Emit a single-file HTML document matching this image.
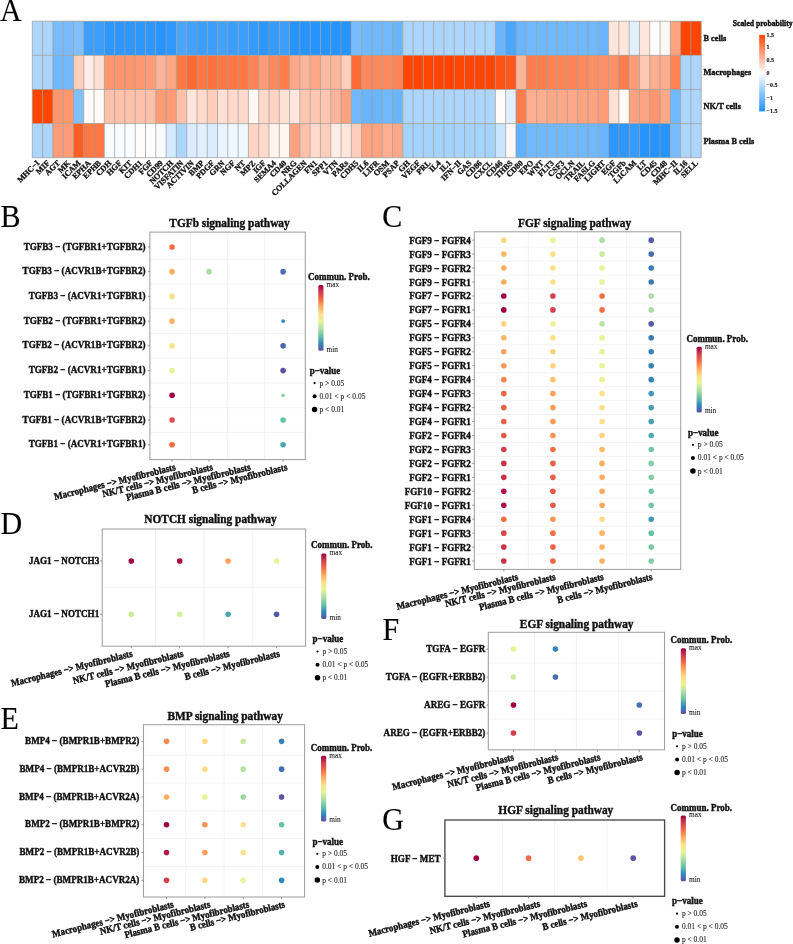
<!DOCTYPE html>
<html><head><meta charset="utf-8"><style>
html,body{margin:0;padding:0;background:#fff;}
svg{display:block;}
</style></head><body>
<svg width="793" height="944" viewBox="0 0 793 944" font-family="'Liberation Serif', serif">
<rect width="793" height="944" fill="#fff"/>
<g>
<rect x="32.30" y="21.20" width="10.34" height="34.12" fill="#acd6ff"/>
<rect x="32.30" y="55.33" width="10.34" height="34.12" fill="#acd6ff"/>
<rect x="32.30" y="89.45" width="10.34" height="34.12" fill="#ff4500"/>
<rect x="32.30" y="123.58" width="10.34" height="34.12" fill="#acd6ff"/>
<rect x="42.59" y="21.20" width="10.34" height="34.12" fill="#acd6ff"/>
<rect x="42.59" y="55.33" width="10.34" height="34.12" fill="#acd6ff"/>
<rect x="42.59" y="89.45" width="10.34" height="34.12" fill="#ff4500"/>
<rect x="42.59" y="123.58" width="10.34" height="34.12" fill="#acd6ff"/>
<rect x="52.88" y="21.20" width="10.34" height="34.12" fill="#78bcff"/>
<rect x="52.88" y="55.33" width="10.34" height="34.12" fill="#70b9ff"/>
<rect x="52.88" y="89.45" width="10.34" height="34.12" fill="#ff966e"/>
<rect x="52.88" y="123.58" width="10.34" height="34.12" fill="#ff9c77"/>
<rect x="63.17" y="21.20" width="10.34" height="34.12" fill="#78bcff"/>
<rect x="63.17" y="55.33" width="10.34" height="34.12" fill="#70b9ff"/>
<rect x="63.17" y="89.45" width="10.34" height="34.12" fill="#ff966e"/>
<rect x="63.17" y="123.58" width="10.34" height="34.12" fill="#ff9c77"/>
<rect x="73.46" y="21.20" width="10.34" height="34.12" fill="#80c0ff"/>
<rect x="73.46" y="55.33" width="10.34" height="34.12" fill="#ffcdbb"/>
<rect x="73.46" y="89.45" width="10.34" height="34.12" fill="#80c0ff"/>
<rect x="73.46" y="123.58" width="10.34" height="34.12" fill="#ff5e22"/>
<rect x="83.75" y="21.20" width="10.34" height="34.12" fill="#3c9fff"/>
<rect x="83.75" y="55.33" width="10.34" height="34.12" fill="#ffece6"/>
<rect x="83.75" y="89.45" width="10.34" height="34.12" fill="#fffbfa"/>
<rect x="83.75" y="123.58" width="10.34" height="34.12" fill="#ff7744"/>
<rect x="94.04" y="21.20" width="10.34" height="34.12" fill="#3c9fff"/>
<rect x="94.04" y="55.33" width="10.34" height="34.12" fill="#ffe0d4"/>
<rect x="94.04" y="89.45" width="10.34" height="34.12" fill="#fff9f6"/>
<rect x="94.04" y="123.58" width="10.34" height="34.12" fill="#ff7744"/>
<rect x="104.34" y="21.20" width="10.34" height="34.12" fill="#2d97ff"/>
<rect x="104.34" y="55.33" width="10.34" height="34.12" fill="#ff966e"/>
<rect x="104.34" y="89.45" width="10.34" height="34.12" fill="#ffc1aa"/>
<rect x="104.34" y="123.58" width="10.34" height="34.12" fill="#f8fbff"/>
<rect x="114.63" y="21.20" width="10.34" height="34.12" fill="#2d97ff"/>
<rect x="114.63" y="55.33" width="10.34" height="34.12" fill="#ff966e"/>
<rect x="114.63" y="89.45" width="10.34" height="34.12" fill="#ffc1aa"/>
<rect x="114.63" y="123.58" width="10.34" height="34.12" fill="#f8fbff"/>
<rect x="124.92" y="21.20" width="10.34" height="34.12" fill="#2d97ff"/>
<rect x="124.92" y="55.33" width="10.34" height="34.12" fill="#ff966e"/>
<rect x="124.92" y="89.45" width="10.34" height="34.12" fill="#ffc1aa"/>
<rect x="124.92" y="123.58" width="10.34" height="34.12" fill="#fafdff"/>
<rect x="135.21" y="21.20" width="10.34" height="34.12" fill="#2d97ff"/>
<rect x="135.21" y="55.33" width="10.34" height="34.12" fill="#ff966e"/>
<rect x="135.21" y="89.45" width="10.34" height="34.12" fill="#ffc1aa"/>
<rect x="135.21" y="123.58" width="10.34" height="34.12" fill="#fffdfc"/>
<rect x="145.50" y="21.20" width="10.34" height="34.12" fill="#2d97ff"/>
<rect x="145.50" y="55.33" width="10.34" height="34.12" fill="#ff9c77"/>
<rect x="145.50" y="89.45" width="10.34" height="34.12" fill="#ffc1aa"/>
<rect x="145.50" y="123.58" width="10.34" height="34.12" fill="#fffdfc"/>
<rect x="155.79" y="21.20" width="10.34" height="34.12" fill="#2694ff"/>
<rect x="155.79" y="55.33" width="10.34" height="34.12" fill="#ffb599"/>
<rect x="155.79" y="89.45" width="10.34" height="34.12" fill="#ff9c77"/>
<rect x="155.79" y="123.58" width="10.34" height="34.12" fill="#f8fbff"/>
<rect x="166.08" y="21.20" width="10.34" height="34.12" fill="#2d97ff"/>
<rect x="166.08" y="55.33" width="10.34" height="34.12" fill="#ffa888"/>
<rect x="166.08" y="89.45" width="10.34" height="34.12" fill="#ff9c77"/>
<rect x="166.08" y="123.58" width="10.34" height="34.12" fill="#d2e9ff"/>
<rect x="176.37" y="21.20" width="10.34" height="34.12" fill="#4ba6ff"/>
<rect x="176.37" y="55.33" width="10.34" height="34.12" fill="#ff7744"/>
<rect x="176.37" y="89.45" width="10.34" height="34.12" fill="#ffc1aa"/>
<rect x="176.37" y="123.58" width="10.34" height="34.12" fill="#acd6ff"/>
<rect x="186.66" y="21.20" width="10.34" height="34.12" fill="#44a2ff"/>
<rect x="186.66" y="55.33" width="10.34" height="34.12" fill="#ff6a33"/>
<rect x="186.66" y="89.45" width="10.34" height="34.12" fill="#ffe6dd"/>
<rect x="186.66" y="123.58" width="10.34" height="34.12" fill="#daecff"/>
<rect x="196.95" y="21.20" width="10.34" height="34.12" fill="#3c9fff"/>
<rect x="196.95" y="55.33" width="10.34" height="34.12" fill="#ff7744"/>
<rect x="196.95" y="89.45" width="10.34" height="34.12" fill="#ffdacc"/>
<rect x="196.95" y="123.58" width="10.34" height="34.12" fill="#e1f0ff"/>
<rect x="207.24" y="21.20" width="10.34" height="34.12" fill="#3c9fff"/>
<rect x="207.24" y="55.33" width="10.34" height="34.12" fill="#ff703c"/>
<rect x="207.24" y="89.45" width="10.34" height="34.12" fill="#ffcdbb"/>
<rect x="207.24" y="123.58" width="10.34" height="34.12" fill="#daecff"/>
<rect x="217.53" y="21.20" width="10.34" height="34.12" fill="#44a2ff"/>
<rect x="217.53" y="55.33" width="10.34" height="34.12" fill="#ff7744"/>
<rect x="217.53" y="89.45" width="10.34" height="34.12" fill="#ffe0d4"/>
<rect x="217.53" y="123.58" width="10.34" height="34.12" fill="#e8f4ff"/>
<rect x="227.82" y="21.20" width="10.34" height="34.12" fill="#3c9fff"/>
<rect x="227.82" y="55.33" width="10.34" height="34.12" fill="#ff7744"/>
<rect x="227.82" y="89.45" width="10.34" height="34.12" fill="#ffdacc"/>
<rect x="227.82" y="123.58" width="10.34" height="34.12" fill="#f0f8ff"/>
<rect x="238.12" y="21.20" width="10.34" height="34.12" fill="#3c9fff"/>
<rect x="238.12" y="55.33" width="10.34" height="34.12" fill="#ff7744"/>
<rect x="238.12" y="89.45" width="10.34" height="34.12" fill="#ffdacc"/>
<rect x="238.12" y="123.58" width="10.34" height="34.12" fill="#f0f8ff"/>
<rect x="248.41" y="21.20" width="10.34" height="34.12" fill="#349bff"/>
<rect x="248.41" y="55.33" width="10.34" height="34.12" fill="#ff8355"/>
<rect x="248.41" y="89.45" width="10.34" height="34.12" fill="#fff9f6"/>
<rect x="248.41" y="123.58" width="10.34" height="34.12" fill="#ffd4c4"/>
<rect x="258.70" y="21.20" width="10.34" height="34.12" fill="#2d97ff"/>
<rect x="258.70" y="55.33" width="10.34" height="34.12" fill="#ff9c77"/>
<rect x="258.70" y="89.45" width="10.34" height="34.12" fill="#ffdacc"/>
<rect x="258.70" y="123.58" width="10.34" height="34.12" fill="#ffdacc"/>
<rect x="268.99" y="21.20" width="10.34" height="34.12" fill="#349bff"/>
<rect x="268.99" y="55.33" width="10.34" height="34.12" fill="#ff895e"/>
<rect x="268.99" y="89.45" width="10.34" height="34.12" fill="#ffd4c4"/>
<rect x="268.99" y="123.58" width="10.34" height="34.12" fill="#fff3ee"/>
<rect x="279.28" y="21.20" width="10.34" height="34.12" fill="#3c9fff"/>
<rect x="279.28" y="55.33" width="10.34" height="34.12" fill="#ff7d4c"/>
<rect x="279.28" y="89.45" width="10.34" height="34.12" fill="#ffe0d4"/>
<rect x="279.28" y="123.58" width="10.34" height="34.12" fill="#fff5f1"/>
<rect x="289.57" y="21.20" width="10.34" height="34.12" fill="#2694ff"/>
<rect x="289.57" y="55.33" width="10.34" height="34.12" fill="#ffa888"/>
<rect x="289.57" y="89.45" width="10.34" height="34.12" fill="#ffe6dd"/>
<rect x="289.57" y="123.58" width="10.34" height="34.12" fill="#ffa280"/>
<rect x="299.86" y="21.20" width="10.34" height="34.12" fill="#2694ff"/>
<rect x="299.86" y="55.33" width="10.34" height="34.12" fill="#ffb599"/>
<rect x="299.86" y="89.45" width="10.34" height="34.12" fill="#ffc7b2"/>
<rect x="299.86" y="123.58" width="10.34" height="34.12" fill="#ffc1aa"/>
<rect x="310.15" y="21.20" width="10.34" height="34.12" fill="#2694ff"/>
<rect x="310.15" y="55.33" width="10.34" height="34.12" fill="#ffa888"/>
<rect x="310.15" y="89.45" width="10.34" height="34.12" fill="#ffc7b2"/>
<rect x="310.15" y="123.58" width="10.34" height="34.12" fill="#ffdacc"/>
<rect x="320.44" y="21.20" width="10.34" height="34.12" fill="#2694ff"/>
<rect x="320.44" y="55.33" width="10.34" height="34.12" fill="#ffbba2"/>
<rect x="320.44" y="89.45" width="10.34" height="34.12" fill="#ffc7b2"/>
<rect x="320.44" y="123.58" width="10.34" height="34.12" fill="#ffcdbb"/>
<rect x="330.73" y="21.20" width="10.34" height="34.12" fill="#2694ff"/>
<rect x="330.73" y="55.33" width="10.34" height="34.12" fill="#ffb599"/>
<rect x="330.73" y="89.45" width="10.34" height="34.12" fill="#ffb599"/>
<rect x="330.73" y="123.58" width="10.34" height="34.12" fill="#ffece6"/>
<rect x="341.02" y="21.20" width="10.34" height="34.12" fill="#2694ff"/>
<rect x="341.02" y="55.33" width="10.34" height="34.12" fill="#ffcdbb"/>
<rect x="341.02" y="89.45" width="10.34" height="34.12" fill="#ffa280"/>
<rect x="341.02" y="123.58" width="10.34" height="34.12" fill="#ffe6dd"/>
<rect x="351.31" y="21.20" width="10.34" height="34.12" fill="#78bcff"/>
<rect x="351.31" y="55.33" width="10.34" height="34.12" fill="#ff6a33"/>
<rect x="351.31" y="89.45" width="10.34" height="34.12" fill="#70b9ff"/>
<rect x="351.31" y="123.58" width="10.34" height="34.12" fill="#ffcdbb"/>
<rect x="361.60" y="21.20" width="10.34" height="34.12" fill="#70b9ff"/>
<rect x="361.60" y="55.33" width="10.34" height="34.12" fill="#ff895e"/>
<rect x="361.60" y="89.45" width="10.34" height="34.12" fill="#69b5ff"/>
<rect x="361.60" y="123.58" width="10.34" height="34.12" fill="#ffa280"/>
<rect x="371.90" y="21.20" width="10.34" height="34.12" fill="#70b9ff"/>
<rect x="371.90" y="55.33" width="10.34" height="34.12" fill="#ff895e"/>
<rect x="371.90" y="89.45" width="10.34" height="34.12" fill="#69b5ff"/>
<rect x="371.90" y="123.58" width="10.34" height="34.12" fill="#ffa280"/>
<rect x="382.19" y="21.20" width="10.34" height="34.12" fill="#70b9ff"/>
<rect x="382.19" y="55.33" width="10.34" height="34.12" fill="#ff895e"/>
<rect x="382.19" y="89.45" width="10.34" height="34.12" fill="#70b9ff"/>
<rect x="382.19" y="123.58" width="10.34" height="34.12" fill="#ffae90"/>
<rect x="392.48" y="21.20" width="10.34" height="34.12" fill="#69b5ff"/>
<rect x="392.48" y="55.33" width="10.34" height="34.12" fill="#ff8355"/>
<rect x="392.48" y="89.45" width="10.34" height="34.12" fill="#69b5ff"/>
<rect x="392.48" y="123.58" width="10.34" height="34.12" fill="#ffa888"/>
<rect x="402.77" y="21.20" width="10.34" height="34.12" fill="#acd6ff"/>
<rect x="402.77" y="55.33" width="10.34" height="34.12" fill="#ff4500"/>
<rect x="402.77" y="89.45" width="10.34" height="34.12" fill="#acd6ff"/>
<rect x="402.77" y="123.58" width="10.34" height="34.12" fill="#a5d3ff"/>
<rect x="413.06" y="21.20" width="10.34" height="34.12" fill="#acd6ff"/>
<rect x="413.06" y="55.33" width="10.34" height="34.12" fill="#ff4500"/>
<rect x="413.06" y="89.45" width="10.34" height="34.12" fill="#acd6ff"/>
<rect x="413.06" y="123.58" width="10.34" height="34.12" fill="#a5d3ff"/>
<rect x="423.35" y="21.20" width="10.34" height="34.12" fill="#acd6ff"/>
<rect x="423.35" y="55.33" width="10.34" height="34.12" fill="#ff4500"/>
<rect x="423.35" y="89.45" width="10.34" height="34.12" fill="#acd6ff"/>
<rect x="423.35" y="123.58" width="10.34" height="34.12" fill="#a5d3ff"/>
<rect x="433.64" y="21.20" width="10.34" height="34.12" fill="#acd6ff"/>
<rect x="433.64" y="55.33" width="10.34" height="34.12" fill="#ff4500"/>
<rect x="433.64" y="89.45" width="10.34" height="34.12" fill="#acd6ff"/>
<rect x="433.64" y="123.58" width="10.34" height="34.12" fill="#a5d3ff"/>
<rect x="443.93" y="21.20" width="10.34" height="34.12" fill="#acd6ff"/>
<rect x="443.93" y="55.33" width="10.34" height="34.12" fill="#ff4500"/>
<rect x="443.93" y="89.45" width="10.34" height="34.12" fill="#acd6ff"/>
<rect x="443.93" y="123.58" width="10.34" height="34.12" fill="#a5d3ff"/>
<rect x="454.22" y="21.20" width="10.34" height="34.12" fill="#acd6ff"/>
<rect x="454.22" y="55.33" width="10.34" height="34.12" fill="#ff4500"/>
<rect x="454.22" y="89.45" width="10.34" height="34.12" fill="#acd6ff"/>
<rect x="454.22" y="123.58" width="10.34" height="34.12" fill="#a5d3ff"/>
<rect x="464.51" y="21.20" width="10.34" height="34.12" fill="#acd6ff"/>
<rect x="464.51" y="55.33" width="10.34" height="34.12" fill="#ff4500"/>
<rect x="464.51" y="89.45" width="10.34" height="34.12" fill="#acd6ff"/>
<rect x="464.51" y="123.58" width="10.34" height="34.12" fill="#a5d3ff"/>
<rect x="474.80" y="21.20" width="10.34" height="34.12" fill="#acd6ff"/>
<rect x="474.80" y="55.33" width="10.34" height="34.12" fill="#ff4500"/>
<rect x="474.80" y="89.45" width="10.34" height="34.12" fill="#acd6ff"/>
<rect x="474.80" y="123.58" width="10.34" height="34.12" fill="#a5d3ff"/>
<rect x="485.09" y="21.20" width="10.34" height="34.12" fill="#acd6ff"/>
<rect x="485.09" y="55.33" width="10.34" height="34.12" fill="#ff4500"/>
<rect x="485.09" y="89.45" width="10.34" height="34.12" fill="#acd6ff"/>
<rect x="485.09" y="123.58" width="10.34" height="34.12" fill="#a5d3ff"/>
<rect x="495.38" y="21.20" width="10.34" height="34.12" fill="#69b5ff"/>
<rect x="495.38" y="55.33" width="10.34" height="34.12" fill="#ff5111"/>
<rect x="495.38" y="89.45" width="10.34" height="34.12" fill="#fffbfa"/>
<rect x="495.38" y="123.58" width="10.34" height="34.12" fill="#cae5ff"/>
<rect x="505.68" y="21.20" width="10.34" height="34.12" fill="#4ba6ff"/>
<rect x="505.68" y="55.33" width="10.34" height="34.12" fill="#ff581a"/>
<rect x="505.68" y="89.45" width="10.34" height="34.12" fill="#e1f0ff"/>
<rect x="505.68" y="123.58" width="10.34" height="34.12" fill="#fff9f6"/>
<rect x="515.97" y="21.20" width="10.34" height="34.12" fill="#69b5ff"/>
<rect x="515.97" y="55.33" width="10.34" height="34.12" fill="#ffb599"/>
<rect x="515.97" y="89.45" width="10.34" height="34.12" fill="#ff7d4c"/>
<rect x="515.97" y="123.58" width="10.34" height="34.12" fill="#61b1ff"/>
<rect x="526.26" y="21.20" width="10.34" height="34.12" fill="#70b9ff"/>
<rect x="526.26" y="55.33" width="10.34" height="34.12" fill="#ff7d4c"/>
<rect x="526.26" y="89.45" width="10.34" height="34.12" fill="#ffae90"/>
<rect x="526.26" y="123.58" width="10.34" height="34.12" fill="#70b9ff"/>
<rect x="536.55" y="21.20" width="10.34" height="34.12" fill="#70b9ff"/>
<rect x="536.55" y="55.33" width="10.34" height="34.12" fill="#ff7d4c"/>
<rect x="536.55" y="89.45" width="10.34" height="34.12" fill="#ffae90"/>
<rect x="536.55" y="123.58" width="10.34" height="34.12" fill="#70b9ff"/>
<rect x="546.84" y="21.20" width="10.34" height="34.12" fill="#70b9ff"/>
<rect x="546.84" y="55.33" width="10.34" height="34.12" fill="#ff8355"/>
<rect x="546.84" y="89.45" width="10.34" height="34.12" fill="#ffa888"/>
<rect x="546.84" y="123.58" width="10.34" height="34.12" fill="#70b9ff"/>
<rect x="557.13" y="21.20" width="10.34" height="34.12" fill="#70b9ff"/>
<rect x="557.13" y="55.33" width="10.34" height="34.12" fill="#ff8355"/>
<rect x="557.13" y="89.45" width="10.34" height="34.12" fill="#ffa888"/>
<rect x="557.13" y="123.58" width="10.34" height="34.12" fill="#70b9ff"/>
<rect x="567.42" y="21.20" width="10.34" height="34.12" fill="#70b9ff"/>
<rect x="567.42" y="55.33" width="10.34" height="34.12" fill="#ff8355"/>
<rect x="567.42" y="89.45" width="10.34" height="34.12" fill="#ffa888"/>
<rect x="567.42" y="123.58" width="10.34" height="34.12" fill="#70b9ff"/>
<rect x="577.71" y="21.20" width="10.34" height="34.12" fill="#70b9ff"/>
<rect x="577.71" y="55.33" width="10.34" height="34.12" fill="#ff895e"/>
<rect x="577.71" y="89.45" width="10.34" height="34.12" fill="#ffa280"/>
<rect x="577.71" y="123.58" width="10.34" height="34.12" fill="#70b9ff"/>
<rect x="588.00" y="21.20" width="10.34" height="34.12" fill="#70b9ff"/>
<rect x="588.00" y="55.33" width="10.34" height="34.12" fill="#ff8f66"/>
<rect x="588.00" y="89.45" width="10.34" height="34.12" fill="#ffa280"/>
<rect x="588.00" y="123.58" width="10.34" height="34.12" fill="#70b9ff"/>
<rect x="598.29" y="21.20" width="10.34" height="34.12" fill="#69b5ff"/>
<rect x="598.29" y="55.33" width="10.34" height="34.12" fill="#ff8f66"/>
<rect x="598.29" y="89.45" width="10.34" height="34.12" fill="#ff9c77"/>
<rect x="598.29" y="123.58" width="10.34" height="34.12" fill="#69b5ff"/>
<rect x="608.58" y="21.20" width="10.34" height="34.12" fill="#ffe6dd"/>
<rect x="608.58" y="55.33" width="10.34" height="34.12" fill="#ff8f66"/>
<rect x="608.58" y="89.45" width="10.34" height="34.12" fill="#ffe0d4"/>
<rect x="608.58" y="123.58" width="10.34" height="34.12" fill="#2d97ff"/>
<rect x="618.87" y="21.20" width="10.34" height="34.12" fill="#ffe6dd"/>
<rect x="618.87" y="55.33" width="10.34" height="34.12" fill="#ff7d4c"/>
<rect x="618.87" y="89.45" width="10.34" height="34.12" fill="#fff9f6"/>
<rect x="618.87" y="123.58" width="10.34" height="34.12" fill="#2d97ff"/>
<rect x="629.16" y="21.20" width="10.34" height="34.12" fill="#e1f0ff"/>
<rect x="629.16" y="55.33" width="10.34" height="34.12" fill="#ff9c77"/>
<rect x="629.16" y="89.45" width="10.34" height="34.12" fill="#ffa280"/>
<rect x="629.16" y="123.58" width="10.34" height="34.12" fill="#349bff"/>
<rect x="639.46" y="21.20" width="10.34" height="34.12" fill="#ffe6dd"/>
<rect x="639.46" y="55.33" width="10.34" height="34.12" fill="#ffc7b2"/>
<rect x="639.46" y="89.45" width="10.34" height="34.12" fill="#ffa280"/>
<rect x="639.46" y="123.58" width="10.34" height="34.12" fill="#2694ff"/>
<rect x="649.75" y="21.20" width="10.34" height="34.12" fill="#ffffff"/>
<rect x="649.75" y="55.33" width="10.34" height="34.12" fill="#ffae90"/>
<rect x="649.75" y="89.45" width="10.34" height="34.12" fill="#ff966e"/>
<rect x="649.75" y="123.58" width="10.34" height="34.12" fill="#2694ff"/>
<rect x="660.04" y="21.20" width="10.34" height="34.12" fill="#fff9f6"/>
<rect x="660.04" y="55.33" width="10.34" height="34.12" fill="#ffae90"/>
<rect x="660.04" y="89.45" width="10.34" height="34.12" fill="#ffa888"/>
<rect x="660.04" y="123.58" width="10.34" height="34.12" fill="#2694ff"/>
<rect x="670.33" y="21.20" width="10.34" height="34.12" fill="#ffa280"/>
<rect x="670.33" y="55.33" width="10.34" height="34.12" fill="#ff8355"/>
<rect x="670.33" y="89.45" width="10.34" height="34.12" fill="#70b9ff"/>
<rect x="670.33" y="123.58" width="10.34" height="34.12" fill="#78bcff"/>
<rect x="680.62" y="21.20" width="10.34" height="34.12" fill="#ff4500"/>
<rect x="680.62" y="55.33" width="10.34" height="34.12" fill="#acd6ff"/>
<rect x="680.62" y="89.45" width="10.34" height="34.12" fill="#acd6ff"/>
<rect x="680.62" y="123.58" width="10.34" height="34.12" fill="#acd6ff"/>
<rect x="690.91" y="21.20" width="10.34" height="34.12" fill="#ff4500"/>
<rect x="690.91" y="55.33" width="10.34" height="34.12" fill="#acd6ff"/>
<rect x="690.91" y="89.45" width="10.34" height="34.12" fill="#acd6ff"/>
<rect x="690.91" y="123.58" width="10.34" height="34.12" fill="#acd6ff"/>
<line x1="32.30" y1="21.2" x2="32.30" y2="157.7" stroke="#9c9894" stroke-width="0.7"/>
<line x1="42.59" y1="21.2" x2="42.59" y2="157.7" stroke="#9c9894" stroke-width="0.7"/>
<line x1="52.88" y1="21.2" x2="52.88" y2="157.7" stroke="#9c9894" stroke-width="0.7"/>
<line x1="63.17" y1="21.2" x2="63.17" y2="157.7" stroke="#9c9894" stroke-width="0.7"/>
<line x1="73.46" y1="21.2" x2="73.46" y2="157.7" stroke="#9c9894" stroke-width="0.7"/>
<line x1="83.75" y1="21.2" x2="83.75" y2="157.7" stroke="#9c9894" stroke-width="0.7"/>
<line x1="94.04" y1="21.2" x2="94.04" y2="157.7" stroke="#9c9894" stroke-width="0.7"/>
<line x1="104.34" y1="21.2" x2="104.34" y2="157.7" stroke="#9c9894" stroke-width="0.7"/>
<line x1="114.63" y1="21.2" x2="114.63" y2="157.7" stroke="#9c9894" stroke-width="0.7"/>
<line x1="124.92" y1="21.2" x2="124.92" y2="157.7" stroke="#9c9894" stroke-width="0.7"/>
<line x1="135.21" y1="21.2" x2="135.21" y2="157.7" stroke="#9c9894" stroke-width="0.7"/>
<line x1="145.50" y1="21.2" x2="145.50" y2="157.7" stroke="#9c9894" stroke-width="0.7"/>
<line x1="155.79" y1="21.2" x2="155.79" y2="157.7" stroke="#9c9894" stroke-width="0.7"/>
<line x1="166.08" y1="21.2" x2="166.08" y2="157.7" stroke="#9c9894" stroke-width="0.7"/>
<line x1="176.37" y1="21.2" x2="176.37" y2="157.7" stroke="#9c9894" stroke-width="0.7"/>
<line x1="186.66" y1="21.2" x2="186.66" y2="157.7" stroke="#9c9894" stroke-width="0.7"/>
<line x1="196.95" y1="21.2" x2="196.95" y2="157.7" stroke="#9c9894" stroke-width="0.7"/>
<line x1="207.24" y1="21.2" x2="207.24" y2="157.7" stroke="#9c9894" stroke-width="0.7"/>
<line x1="217.53" y1="21.2" x2="217.53" y2="157.7" stroke="#9c9894" stroke-width="0.7"/>
<line x1="227.82" y1="21.2" x2="227.82" y2="157.7" stroke="#9c9894" stroke-width="0.7"/>
<line x1="238.12" y1="21.2" x2="238.12" y2="157.7" stroke="#9c9894" stroke-width="0.7"/>
<line x1="248.41" y1="21.2" x2="248.41" y2="157.7" stroke="#9c9894" stroke-width="0.7"/>
<line x1="258.70" y1="21.2" x2="258.70" y2="157.7" stroke="#9c9894" stroke-width="0.7"/>
<line x1="268.99" y1="21.2" x2="268.99" y2="157.7" stroke="#9c9894" stroke-width="0.7"/>
<line x1="279.28" y1="21.2" x2="279.28" y2="157.7" stroke="#9c9894" stroke-width="0.7"/>
<line x1="289.57" y1="21.2" x2="289.57" y2="157.7" stroke="#9c9894" stroke-width="0.7"/>
<line x1="299.86" y1="21.2" x2="299.86" y2="157.7" stroke="#9c9894" stroke-width="0.7"/>
<line x1="310.15" y1="21.2" x2="310.15" y2="157.7" stroke="#9c9894" stroke-width="0.7"/>
<line x1="320.44" y1="21.2" x2="320.44" y2="157.7" stroke="#9c9894" stroke-width="0.7"/>
<line x1="330.73" y1="21.2" x2="330.73" y2="157.7" stroke="#9c9894" stroke-width="0.7"/>
<line x1="341.02" y1="21.2" x2="341.02" y2="157.7" stroke="#9c9894" stroke-width="0.7"/>
<line x1="351.31" y1="21.2" x2="351.31" y2="157.7" stroke="#9c9894" stroke-width="0.7"/>
<line x1="361.60" y1="21.2" x2="361.60" y2="157.7" stroke="#9c9894" stroke-width="0.7"/>
<line x1="371.90" y1="21.2" x2="371.90" y2="157.7" stroke="#9c9894" stroke-width="0.7"/>
<line x1="382.19" y1="21.2" x2="382.19" y2="157.7" stroke="#9c9894" stroke-width="0.7"/>
<line x1="392.48" y1="21.2" x2="392.48" y2="157.7" stroke="#9c9894" stroke-width="0.7"/>
<line x1="402.77" y1="21.2" x2="402.77" y2="157.7" stroke="#9c9894" stroke-width="0.7"/>
<line x1="413.06" y1="21.2" x2="413.06" y2="157.7" stroke="#9c9894" stroke-width="0.7"/>
<line x1="423.35" y1="21.2" x2="423.35" y2="157.7" stroke="#9c9894" stroke-width="0.7"/>
<line x1="433.64" y1="21.2" x2="433.64" y2="157.7" stroke="#9c9894" stroke-width="0.7"/>
<line x1="443.93" y1="21.2" x2="443.93" y2="157.7" stroke="#9c9894" stroke-width="0.7"/>
<line x1="454.22" y1="21.2" x2="454.22" y2="157.7" stroke="#9c9894" stroke-width="0.7"/>
<line x1="464.51" y1="21.2" x2="464.51" y2="157.7" stroke="#9c9894" stroke-width="0.7"/>
<line x1="474.80" y1="21.2" x2="474.80" y2="157.7" stroke="#9c9894" stroke-width="0.7"/>
<line x1="485.09" y1="21.2" x2="485.09" y2="157.7" stroke="#9c9894" stroke-width="0.7"/>
<line x1="495.38" y1="21.2" x2="495.38" y2="157.7" stroke="#9c9894" stroke-width="0.7"/>
<line x1="505.68" y1="21.2" x2="505.68" y2="157.7" stroke="#9c9894" stroke-width="0.7"/>
<line x1="515.97" y1="21.2" x2="515.97" y2="157.7" stroke="#9c9894" stroke-width="0.7"/>
<line x1="526.26" y1="21.2" x2="526.26" y2="157.7" stroke="#9c9894" stroke-width="0.7"/>
<line x1="536.55" y1="21.2" x2="536.55" y2="157.7" stroke="#9c9894" stroke-width="0.7"/>
<line x1="546.84" y1="21.2" x2="546.84" y2="157.7" stroke="#9c9894" stroke-width="0.7"/>
<line x1="557.13" y1="21.2" x2="557.13" y2="157.7" stroke="#9c9894" stroke-width="0.7"/>
<line x1="567.42" y1="21.2" x2="567.42" y2="157.7" stroke="#9c9894" stroke-width="0.7"/>
<line x1="577.71" y1="21.2" x2="577.71" y2="157.7" stroke="#9c9894" stroke-width="0.7"/>
<line x1="588.00" y1="21.2" x2="588.00" y2="157.7" stroke="#9c9894" stroke-width="0.7"/>
<line x1="598.29" y1="21.2" x2="598.29" y2="157.7" stroke="#9c9894" stroke-width="0.7"/>
<line x1="608.58" y1="21.2" x2="608.58" y2="157.7" stroke="#9c9894" stroke-width="0.7"/>
<line x1="618.87" y1="21.2" x2="618.87" y2="157.7" stroke="#9c9894" stroke-width="0.7"/>
<line x1="629.16" y1="21.2" x2="629.16" y2="157.7" stroke="#9c9894" stroke-width="0.7"/>
<line x1="639.46" y1="21.2" x2="639.46" y2="157.7" stroke="#9c9894" stroke-width="0.7"/>
<line x1="649.75" y1="21.2" x2="649.75" y2="157.7" stroke="#9c9894" stroke-width="0.7"/>
<line x1="660.04" y1="21.2" x2="660.04" y2="157.7" stroke="#9c9894" stroke-width="0.7"/>
<line x1="670.33" y1="21.2" x2="670.33" y2="157.7" stroke="#9c9894" stroke-width="0.7"/>
<line x1="680.62" y1="21.2" x2="680.62" y2="157.7" stroke="#9c9894" stroke-width="0.7"/>
<line x1="690.91" y1="21.2" x2="690.91" y2="157.7" stroke="#9c9894" stroke-width="0.7"/>
<line x1="701.20" y1="21.2" x2="701.20" y2="157.7" stroke="#9c9894" stroke-width="0.7"/>
<line x1="32.3" y1="21.20" x2="701.2" y2="21.20" stroke="#9c9894" stroke-width="0.7"/>
<line x1="32.3" y1="55.33" x2="701.2" y2="55.33" stroke="#9c9894" stroke-width="0.7"/>
<line x1="32.3" y1="89.45" x2="701.2" y2="89.45" stroke="#9c9894" stroke-width="0.7"/>
<line x1="32.3" y1="123.58" x2="701.2" y2="123.58" stroke="#9c9894" stroke-width="0.7"/>
<line x1="32.3" y1="157.70" x2="701.2" y2="157.70" stroke="#9c9894" stroke-width="0.7"/>
</g>
<text transform="translate(39.93,163.58) rotate(-45)" font-size="8.1" fill="#111" font-weight="bold" text-anchor="end" stroke="#111" stroke-width="0.3">MHC−I</text>
<text transform="translate(50.22,163.58) rotate(-45)" font-size="8.1" fill="#111" font-weight="bold" text-anchor="end" stroke="#111" stroke-width="0.3">MIF</text>
<text transform="translate(60.51,163.58) rotate(-45)" font-size="8.1" fill="#111" font-weight="bold" text-anchor="end" stroke="#111" stroke-width="0.3">AGT</text>
<text transform="translate(70.80,163.58) rotate(-45)" font-size="8.1" fill="#111" font-weight="bold" text-anchor="end" stroke="#111" stroke-width="0.3">MK</text>
<text transform="translate(81.09,163.58) rotate(-45)" font-size="8.1" fill="#111" font-weight="bold" text-anchor="end" stroke="#111" stroke-width="0.3">ICAM</text>
<text transform="translate(91.38,163.58) rotate(-45)" font-size="8.1" fill="#111" font-weight="bold" text-anchor="end" stroke="#111" stroke-width="0.3">EPHA</text>
<text transform="translate(101.67,163.58) rotate(-45)" font-size="8.1" fill="#111" font-weight="bold" text-anchor="end" stroke="#111" stroke-width="0.3">EPHB</text>
<text transform="translate(111.96,163.58) rotate(-45)" font-size="8.1" fill="#111" font-weight="bold" text-anchor="end" stroke="#111" stroke-width="0.3">CDH</text>
<text transform="translate(122.25,163.58) rotate(-45)" font-size="8.1" fill="#111" font-weight="bold" text-anchor="end" stroke="#111" stroke-width="0.3">HGF</text>
<text transform="translate(132.54,163.58) rotate(-45)" font-size="8.1" fill="#111" font-weight="bold" text-anchor="end" stroke="#111" stroke-width="0.3">KIT</text>
<text transform="translate(142.83,163.58) rotate(-45)" font-size="8.1" fill="#111" font-weight="bold" text-anchor="end" stroke="#111" stroke-width="0.3">CDH1</text>
<text transform="translate(153.12,163.58) rotate(-45)" font-size="8.1" fill="#111" font-weight="bold" text-anchor="end" stroke="#111" stroke-width="0.3">FGF</text>
<text transform="translate(163.41,163.58) rotate(-45)" font-size="8.1" fill="#111" font-weight="bold" text-anchor="end" stroke="#111" stroke-width="0.3">CD99</text>
<text transform="translate(173.71,163.58) rotate(-45)" font-size="8.1" fill="#111" font-weight="bold" text-anchor="end" stroke="#111" stroke-width="0.3">NOTCH</text>
<text transform="translate(184.00,163.58) rotate(-45)" font-size="8.1" fill="#111" font-weight="bold" text-anchor="end" stroke="#111" stroke-width="0.3">VISFATIN</text>
<text transform="translate(194.29,163.58) rotate(-45)" font-size="8.1" fill="#111" font-weight="bold" text-anchor="end" stroke="#111" stroke-width="0.3">ACTIVIN</text>
<text transform="translate(204.58,163.58) rotate(-45)" font-size="8.1" fill="#111" font-weight="bold" text-anchor="end" stroke="#111" stroke-width="0.3">BMP</text>
<text transform="translate(214.87,163.58) rotate(-45)" font-size="8.1" fill="#111" font-weight="bold" text-anchor="end" stroke="#111" stroke-width="0.3">PDGF</text>
<text transform="translate(225.16,163.58) rotate(-45)" font-size="8.1" fill="#111" font-weight="bold" text-anchor="end" stroke="#111" stroke-width="0.3">GRN</text>
<text transform="translate(235.45,163.58) rotate(-45)" font-size="8.1" fill="#111" font-weight="bold" text-anchor="end" stroke="#111" stroke-width="0.3">NGF</text>
<text transform="translate(245.74,163.58) rotate(-45)" font-size="8.1" fill="#111" font-weight="bold" text-anchor="end" stroke="#111" stroke-width="0.3">NT</text>
<text transform="translate(256.03,163.58) rotate(-45)" font-size="8.1" fill="#111" font-weight="bold" text-anchor="end" stroke="#111" stroke-width="0.3">MPZ</text>
<text transform="translate(266.32,163.58) rotate(-45)" font-size="8.1" fill="#111" font-weight="bold" text-anchor="end" stroke="#111" stroke-width="0.3">IGF</text>
<text transform="translate(276.61,163.58) rotate(-45)" font-size="8.1" fill="#111" font-weight="bold" text-anchor="end" stroke="#111" stroke-width="0.3">SEMA4</text>
<text transform="translate(286.90,163.58) rotate(-45)" font-size="8.1" fill="#111" font-weight="bold" text-anchor="end" stroke="#111" stroke-width="0.3">CD40</text>
<text transform="translate(297.19,163.58) rotate(-45)" font-size="8.1" fill="#111" font-weight="bold" text-anchor="end" stroke="#111" stroke-width="0.3">NRG</text>
<text transform="translate(307.49,163.58) rotate(-45)" font-size="8.1" fill="#111" font-weight="bold" text-anchor="end" stroke="#111" stroke-width="0.3">COLLAGEN</text>
<text transform="translate(317.78,163.58) rotate(-45)" font-size="8.1" fill="#111" font-weight="bold" text-anchor="end" stroke="#111" stroke-width="0.3">FN1</text>
<text transform="translate(328.07,163.58) rotate(-45)" font-size="8.1" fill="#111" font-weight="bold" text-anchor="end" stroke="#111" stroke-width="0.3">SPP1</text>
<text transform="translate(338.36,163.58) rotate(-45)" font-size="8.1" fill="#111" font-weight="bold" text-anchor="end" stroke="#111" stroke-width="0.3">VTN</text>
<text transform="translate(348.65,163.58) rotate(-45)" font-size="8.1" fill="#111" font-weight="bold" text-anchor="end" stroke="#111" stroke-width="0.3">PARs</text>
<text transform="translate(358.94,163.58) rotate(-45)" font-size="8.1" fill="#111" font-weight="bold" text-anchor="end" stroke="#111" stroke-width="0.3">CDH5</text>
<text transform="translate(369.23,163.58) rotate(-45)" font-size="8.1" fill="#111" font-weight="bold" text-anchor="end" stroke="#111" stroke-width="0.3">IL6</text>
<text transform="translate(379.52,163.58) rotate(-45)" font-size="8.1" fill="#111" font-weight="bold" text-anchor="end" stroke="#111" stroke-width="0.3">LIFR</text>
<text transform="translate(389.81,163.58) rotate(-45)" font-size="8.1" fill="#111" font-weight="bold" text-anchor="end" stroke="#111" stroke-width="0.3">OSM</text>
<text transform="translate(400.10,163.58) rotate(-45)" font-size="8.1" fill="#111" font-weight="bold" text-anchor="end" stroke="#111" stroke-width="0.3">PSAP</text>
<text transform="translate(410.39,163.58) rotate(-45)" font-size="8.1" fill="#111" font-weight="bold" text-anchor="end" stroke="#111" stroke-width="0.3">GH</text>
<text transform="translate(420.68,163.58) rotate(-45)" font-size="8.1" fill="#111" font-weight="bold" text-anchor="end" stroke="#111" stroke-width="0.3">VEGF</text>
<text transform="translate(430.97,163.58) rotate(-45)" font-size="8.1" fill="#111" font-weight="bold" text-anchor="end" stroke="#111" stroke-width="0.3">PRL</text>
<text transform="translate(441.27,163.58) rotate(-45)" font-size="8.1" fill="#111" font-weight="bold" text-anchor="end" stroke="#111" stroke-width="0.3">IL4</text>
<text transform="translate(451.56,163.58) rotate(-45)" font-size="8.1" fill="#111" font-weight="bold" text-anchor="end" stroke="#111" stroke-width="0.3">IL1</text>
<text transform="translate(461.85,163.58) rotate(-45)" font-size="8.1" fill="#111" font-weight="bold" text-anchor="end" stroke="#111" stroke-width="0.3">IFN−II</text>
<text transform="translate(472.14,163.58) rotate(-45)" font-size="8.1" fill="#111" font-weight="bold" text-anchor="end" stroke="#111" stroke-width="0.3">GAS</text>
<text transform="translate(482.43,163.58) rotate(-45)" font-size="8.1" fill="#111" font-weight="bold" text-anchor="end" stroke="#111" stroke-width="0.3">CD86</text>
<text transform="translate(492.72,163.58) rotate(-45)" font-size="8.1" fill="#111" font-weight="bold" text-anchor="end" stroke="#111" stroke-width="0.3">CXCL</text>
<text transform="translate(503.01,163.58) rotate(-45)" font-size="8.1" fill="#111" font-weight="bold" text-anchor="end" stroke="#111" stroke-width="0.3">CD46</text>
<text transform="translate(513.30,163.58) rotate(-45)" font-size="8.1" fill="#111" font-weight="bold" text-anchor="end" stroke="#111" stroke-width="0.3">THBS</text>
<text transform="translate(523.59,163.58) rotate(-45)" font-size="8.1" fill="#111" font-weight="bold" text-anchor="end" stroke="#111" stroke-width="0.3">CD80</text>
<text transform="translate(533.88,163.58) rotate(-45)" font-size="8.1" fill="#111" font-weight="bold" text-anchor="end" stroke="#111" stroke-width="0.3">EPO</text>
<text transform="translate(544.17,163.58) rotate(-45)" font-size="8.1" fill="#111" font-weight="bold" text-anchor="end" stroke="#111" stroke-width="0.3">WNT</text>
<text transform="translate(554.46,163.58) rotate(-45)" font-size="8.1" fill="#111" font-weight="bold" text-anchor="end" stroke="#111" stroke-width="0.3">FLT3</text>
<text transform="translate(564.75,163.58) rotate(-45)" font-size="8.1" fill="#111" font-weight="bold" text-anchor="end" stroke="#111" stroke-width="0.3">CSF3</text>
<text transform="translate(575.05,163.58) rotate(-45)" font-size="8.1" fill="#111" font-weight="bold" text-anchor="end" stroke="#111" stroke-width="0.3">OCLN</text>
<text transform="translate(585.34,163.58) rotate(-45)" font-size="8.1" fill="#111" font-weight="bold" text-anchor="end" stroke="#111" stroke-width="0.3">TRAIL</text>
<text transform="translate(595.63,163.58) rotate(-45)" font-size="8.1" fill="#111" font-weight="bold" text-anchor="end" stroke="#111" stroke-width="0.3">FASLG</text>
<text transform="translate(605.92,163.58) rotate(-45)" font-size="8.1" fill="#111" font-weight="bold" text-anchor="end" stroke="#111" stroke-width="0.3">LIGHT</text>
<text transform="translate(616.21,163.58) rotate(-45)" font-size="8.1" fill="#111" font-weight="bold" text-anchor="end" stroke="#111" stroke-width="0.3">EGF</text>
<text transform="translate(626.50,163.58) rotate(-45)" font-size="8.1" fill="#111" font-weight="bold" text-anchor="end" stroke="#111" stroke-width="0.3">TGFb</text>
<text transform="translate(636.79,163.58) rotate(-45)" font-size="8.1" fill="#111" font-weight="bold" text-anchor="end" stroke="#111" stroke-width="0.3">L1CAM</text>
<text transform="translate(647.08,163.58) rotate(-45)" font-size="8.1" fill="#111" font-weight="bold" text-anchor="end" stroke="#111" stroke-width="0.3">LT</text>
<text transform="translate(657.37,163.58) rotate(-45)" font-size="8.1" fill="#111" font-weight="bold" text-anchor="end" stroke="#111" stroke-width="0.3">CD45</text>
<text transform="translate(667.66,163.58) rotate(-45)" font-size="8.1" fill="#111" font-weight="bold" text-anchor="end" stroke="#111" stroke-width="0.3">CD48</text>
<text transform="translate(677.95,163.58) rotate(-45)" font-size="8.1" fill="#111" font-weight="bold" text-anchor="end" stroke="#111" stroke-width="0.3">MHC−II</text>
<text transform="translate(688.24,163.58) rotate(-45)" font-size="8.1" fill="#111" font-weight="bold" text-anchor="end" stroke="#111" stroke-width="0.3">IL16</text>
<text transform="translate(698.53,163.58) rotate(-45)" font-size="8.1" fill="#111" font-weight="bold" text-anchor="end" stroke="#111" stroke-width="0.3">SELL</text>
<text transform="translate(703.50,41.16) scale(1,1.1)" font-size="8.3" fill="#111" font-weight="bold" stroke="#111" stroke-width="0.38">B cells</text>
<text transform="translate(703.50,75.29) scale(1,1.1)" font-size="8.3" fill="#111" font-weight="bold" stroke="#111" stroke-width="0.38">Macrophages</text>
<text transform="translate(703.50,109.41) scale(1,1.1)" font-size="8.3" fill="#111" font-weight="bold" stroke="#111" stroke-width="0.38">NK/T cells</text>
<text transform="translate(703.50,143.54) scale(1,1.1)" font-size="8.3" fill="#111" font-weight="bold" stroke="#111" stroke-width="0.38">Plasma B cells</text>
<defs><linearGradient id="hg" x1="0" y1="0" x2="0" y2="1"><stop offset="0" stop-color="#FF4500"/><stop offset="0.5" stop-color="#FFFFFF"/><stop offset="1" stop-color="#1E90FF"/></linearGradient>
<linearGradient id="sg" x1="0" y1="0" x2="0" y2="1"><stop offset="0.000" stop-color="#9E0142"/><stop offset="0.111" stop-color="#D53E4F"/><stop offset="0.222" stop-color="#F46D43"/><stop offset="0.333" stop-color="#FDAE61"/><stop offset="0.444" stop-color="#FEE08B"/><stop offset="0.556" stop-color="#E6F598"/><stop offset="0.667" stop-color="#ABDDA4"/><stop offset="0.778" stop-color="#66C2A5"/><stop offset="0.889" stop-color="#3288BD"/><stop offset="1.000" stop-color="#5E4FA2"/></linearGradient></defs>
<text transform="translate(732.80,26.00) scale(1,1.1)" font-size="7.7" fill="#111" font-weight="bold" stroke="#111" stroke-width="0.38">Scaled probability</text>
<rect x="759.2" y="34.9" width="5.9" height="76.5" fill="url(#hg)"/>
<text transform="translate(766.60,36.90) scale(1,1.1)" font-size="6" fill="#222" font-weight="bold" stroke="#222" stroke-width="0.15">1.5</text>
<text transform="translate(766.60,49.40) scale(1,1.1)" font-size="6" fill="#222" font-weight="bold" stroke="#222" stroke-width="0.15">1</text>
<text transform="translate(766.60,61.90) scale(1,1.1)" font-size="6" fill="#222" font-weight="bold" stroke="#222" stroke-width="0.15">0.5</text>
<text transform="translate(766.60,74.90) scale(1,1.1)" font-size="6" fill="#222" font-weight="bold" stroke="#222" stroke-width="0.15">0</text>
<text transform="translate(766.60,87.40) scale(1,1.1)" font-size="6" fill="#222" font-weight="bold" stroke="#222" stroke-width="0.15">−0.5</text>
<text transform="translate(766.60,100.40) scale(1,1.1)" font-size="6" fill="#222" font-weight="bold" stroke="#222" stroke-width="0.15">−1</text>
<text transform="translate(766.60,113.00) scale(1,1.1)" font-size="6" fill="#222" font-weight="bold" stroke="#222" stroke-width="0.15">−1.5</text>
<text transform="translate(0.00,20.70) scale(1,1.06)" font-size="30" fill="#000" stroke="#000" stroke-width="0.1">A</text>
<text transform="translate(0.40,226.80) scale(1,1.06)" font-size="30" fill="#000" stroke="#000" stroke-width="0.1">B</text>
<text transform="translate(382.20,227.30) scale(1,1.06)" font-size="30" fill="#000" stroke="#000" stroke-width="0.1">C</text>
<text transform="translate(0.50,533.80) scale(1,1.06)" font-size="30" fill="#000" stroke="#000" stroke-width="0.1">D</text>
<text transform="translate(0.50,728.80) scale(1,1.06)" font-size="30" fill="#000" stroke="#000" stroke-width="0.1">E</text>
<text transform="translate(382.40,639.80) scale(1,1.06)" font-size="30" fill="#000" stroke="#000" stroke-width="0.1">F</text>
<text transform="translate(382.30,829.60) scale(1,1.06)" font-size="30" fill="#000" stroke="#000" stroke-width="0.1">G</text>
<g>
<line x1="190.60" y1="232.1" x2="190.60" y2="459.6" stroke="#efefef" stroke-width="0.8"/>
<line x1="227.60" y1="232.1" x2="227.60" y2="459.6" stroke="#efefef" stroke-width="0.8"/>
<line x1="264.60" y1="232.1" x2="264.60" y2="459.6" stroke="#efefef" stroke-width="0.8"/>
<line x1="149.9" y1="259.30" x2="305.3" y2="259.30" stroke="#efefef" stroke-width="0.8"/>
<line x1="149.9" y1="284.03" x2="305.3" y2="284.03" stroke="#efefef" stroke-width="0.8"/>
<line x1="149.9" y1="308.76" x2="305.3" y2="308.76" stroke="#efefef" stroke-width="0.8"/>
<line x1="149.9" y1="333.49" x2="305.3" y2="333.49" stroke="#efefef" stroke-width="0.8"/>
<line x1="149.9" y1="358.21" x2="305.3" y2="358.21" stroke="#efefef" stroke-width="0.8"/>
<line x1="149.9" y1="382.94" x2="305.3" y2="382.94" stroke="#efefef" stroke-width="0.8"/>
<line x1="149.9" y1="407.67" x2="305.3" y2="407.67" stroke="#efefef" stroke-width="0.8"/>
<line x1="149.9" y1="432.40" x2="305.3" y2="432.40" stroke="#efefef" stroke-width="0.8"/>
<rect x="149.9" y="232.1" width="155.40" height="227.50" fill="none" stroke="#a0a0a0" stroke-width="1.05"/>
<line x1="172.10" y1="459.6" x2="172.10" y2="461.6" stroke="#777" stroke-width="0.8"/>
<line x1="209.10" y1="459.6" x2="209.10" y2="461.6" stroke="#777" stroke-width="0.8"/>
<line x1="246.10" y1="459.6" x2="246.10" y2="461.6" stroke="#777" stroke-width="0.8"/>
<line x1="283.10" y1="459.6" x2="283.10" y2="461.6" stroke="#777" stroke-width="0.8"/>
<line x1="147.9" y1="246.94" x2="149.9" y2="246.94" stroke="#777" stroke-width="0.8"/>
<line x1="147.9" y1="271.67" x2="149.9" y2="271.67" stroke="#777" stroke-width="0.8"/>
<line x1="147.9" y1="296.39" x2="149.9" y2="296.39" stroke="#777" stroke-width="0.8"/>
<line x1="147.9" y1="321.12" x2="149.9" y2="321.12" stroke="#777" stroke-width="0.8"/>
<line x1="147.9" y1="345.85" x2="149.9" y2="345.85" stroke="#777" stroke-width="0.8"/>
<line x1="147.9" y1="370.58" x2="149.9" y2="370.58" stroke="#777" stroke-width="0.8"/>
<line x1="147.9" y1="395.31" x2="149.9" y2="395.31" stroke="#777" stroke-width="0.8"/>
<line x1="147.9" y1="420.03" x2="149.9" y2="420.03" stroke="#777" stroke-width="0.8"/>
<line x1="147.9" y1="444.76" x2="149.9" y2="444.76" stroke="#777" stroke-width="0.8"/>
<circle cx="172.10" cy="246.94" r="2.8" fill="#f46d43"/>
<circle cx="172.10" cy="271.67" r="2.8" fill="#fdae61"/>
<circle cx="209.10" cy="271.67" r="2.8" fill="#abdda4"/>
<circle cx="283.10" cy="271.67" r="2.8" fill="#486cb0"/>
<circle cx="172.10" cy="296.39" r="2.8" fill="#fee08b"/>
<circle cx="172.10" cy="321.12" r="2.8" fill="#fdae61"/>
<circle cx="283.10" cy="321.12" r="1.9" fill="#3288bd"/>
<circle cx="172.10" cy="345.85" r="2.8" fill="#fae38d"/>
<circle cx="283.10" cy="345.85" r="2.8" fill="#4c66ad"/>
<circle cx="172.10" cy="370.58" r="2.8" fill="#e8f397"/>
<circle cx="283.10" cy="370.58" r="2.8" fill="#5e4fa2"/>
<circle cx="172.10" cy="395.31" r="2.8" fill="#9e0142"/>
<circle cx="283.10" cy="395.31" r="1.9" fill="#8fd2a4"/>
<circle cx="172.10" cy="420.03" r="2.8" fill="#de4c4b"/>
<circle cx="283.10" cy="420.03" r="2.8" fill="#66c2a5"/>
<circle cx="172.10" cy="444.76" r="2.8" fill="#f46d43"/>
<circle cx="283.10" cy="444.76" r="2.8" fill="#4ca5b1"/>
</g>
<text transform="translate(145.50,249.54) scale(1,1.1)" font-size="9.1" fill="#111" font-weight="bold" text-anchor="end" stroke="#111" stroke-width="0.38">TGFB3 − (TGFBR1+TGFBR2)</text>
<text transform="translate(145.50,274.27) scale(1,1.1)" font-size="9.1" fill="#111" font-weight="bold" text-anchor="end" stroke="#111" stroke-width="0.38">TGFB3 − (ACVR1B+TGFBR2)</text>
<text transform="translate(145.50,298.99) scale(1,1.1)" font-size="9.1" fill="#111" font-weight="bold" text-anchor="end" stroke="#111" stroke-width="0.38">TGFB3 − (ACVR1+TGFBR1)</text>
<text transform="translate(145.50,323.72) scale(1,1.1)" font-size="9.1" fill="#111" font-weight="bold" text-anchor="end" stroke="#111" stroke-width="0.38">TGFB2 − (TGFBR1+TGFBR2)</text>
<text transform="translate(145.50,348.45) scale(1,1.1)" font-size="9.1" fill="#111" font-weight="bold" text-anchor="end" stroke="#111" stroke-width="0.38">TGFB2 − (ACVR1B+TGFBR2)</text>
<text transform="translate(145.50,373.18) scale(1,1.1)" font-size="9.1" fill="#111" font-weight="bold" text-anchor="end" stroke="#111" stroke-width="0.38">TGFB2 − (ACVR1+TGFBR1)</text>
<text transform="translate(145.50,397.91) scale(1,1.1)" font-size="9.1" fill="#111" font-weight="bold" text-anchor="end" stroke="#111" stroke-width="0.38">TGFB1 − (TGFBR1+TGFBR2)</text>
<text transform="translate(145.50,422.63) scale(1,1.1)" font-size="9.1" fill="#111" font-weight="bold" text-anchor="end" stroke="#111" stroke-width="0.38">TGFB1 − (ACVR1B+TGFBR2)</text>
<text transform="translate(145.50,447.36) scale(1,1.1)" font-size="9.1" fill="#111" font-weight="bold" text-anchor="end" stroke="#111" stroke-width="0.38">TGFB1 − (ACVR1+TGFBR1)</text>
<text transform="translate(176.12,469.81) rotate(-14) scale(1,1.1)" font-size="9.0" fill="#111" font-weight="bold" text-anchor="end" stroke="#111" stroke-width="0.38">Macrophages −&gt; Myofibroblasts</text>
<text transform="translate(213.42,469.81) rotate(-14) scale(1,1.1)" font-size="9.0" fill="#111" font-weight="bold" text-anchor="end" stroke="#111" stroke-width="0.38">NK/T cells −&gt; Myofibroblasts</text>
<text transform="translate(251.12,469.81) rotate(-14) scale(1,1.1)" font-size="9.0" fill="#111" font-weight="bold" text-anchor="end" stroke="#111" stroke-width="0.38">Plasma B cells −&gt; Myofibroblasts</text>
<text transform="translate(287.82,469.81) rotate(-14) scale(1,1.1)" font-size="9.0" fill="#111" font-weight="bold" text-anchor="end" stroke="#111" stroke-width="0.38">B cells −&gt; Myofibroblasts</text>
<text transform="translate(229.50,227.30) scale(1,1.1)" font-size="11.35" fill="#111" font-weight="bold" text-anchor="middle" stroke="#111" stroke-width="0.38">TGFb signaling pathway</text>
<text transform="translate(308.10,280.00) scale(1,1.1)" font-size="9" fill="#111" font-weight="bold" stroke="#111" stroke-width="0.38">Commun. Prob.</text>
<rect x="318.30" y="285.10" width="5.2" height="65.6" rx="1.5" fill="url(#sg)"/>
<text transform="translate(326.60,286.90) scale(1,1.1)" font-size="7.3" fill="#222" stroke="#222" stroke-width="0.1">max</text>
<text transform="translate(326.60,351.70) scale(1,1.1)" font-size="7.3" fill="#222" stroke="#222" stroke-width="0.1">min</text>
<text transform="translate(309.70,373.90) scale(1,1.1)" font-size="9" fill="#111" font-weight="bold" stroke="#111" stroke-width="0.38">p−value</text>
<circle cx="314.60" cy="383.10" r="1.1" fill="#000"/>
<text transform="translate(319.50,385.50) scale(1,1.1)" font-size="7.5" fill="#222" stroke="#222" stroke-width="0.1">p &gt; 0.05</text>
<circle cx="314.60" cy="396.25" r="2.0" fill="#000"/>
<text transform="translate(319.50,398.65) scale(1,1.1)" font-size="7.5" fill="#222" stroke="#222" stroke-width="0.1">0.01 &lt; p &lt; 0.05</text>
<circle cx="314.60" cy="409.40" r="2.75" fill="#000"/>
<text transform="translate(319.50,411.80) scale(1,1.1)" font-size="7.5" fill="#222" stroke="#222" stroke-width="0.1">p &lt; 0.01</text>
<g>
<line x1="528.36" y1="231.8" x2="528.36" y2="569.4" stroke="#efefef" stroke-width="0.8"/>
<line x1="577.50" y1="231.8" x2="577.50" y2="569.4" stroke="#efefef" stroke-width="0.8"/>
<line x1="626.64" y1="231.8" x2="626.64" y2="569.4" stroke="#efefef" stroke-width="0.8"/>
<line x1="474.3" y1="247.15" x2="680.7" y2="247.15" stroke="#efefef" stroke-width="0.8"/>
<line x1="474.3" y1="261.10" x2="680.7" y2="261.10" stroke="#efefef" stroke-width="0.8"/>
<line x1="474.3" y1="275.05" x2="680.7" y2="275.05" stroke="#efefef" stroke-width="0.8"/>
<line x1="474.3" y1="289.00" x2="680.7" y2="289.00" stroke="#efefef" stroke-width="0.8"/>
<line x1="474.3" y1="302.95" x2="680.7" y2="302.95" stroke="#efefef" stroke-width="0.8"/>
<line x1="474.3" y1="316.90" x2="680.7" y2="316.90" stroke="#efefef" stroke-width="0.8"/>
<line x1="474.3" y1="330.85" x2="680.7" y2="330.85" stroke="#efefef" stroke-width="0.8"/>
<line x1="474.3" y1="344.80" x2="680.7" y2="344.80" stroke="#efefef" stroke-width="0.8"/>
<line x1="474.3" y1="358.75" x2="680.7" y2="358.75" stroke="#efefef" stroke-width="0.8"/>
<line x1="474.3" y1="372.70" x2="680.7" y2="372.70" stroke="#efefef" stroke-width="0.8"/>
<line x1="474.3" y1="386.65" x2="680.7" y2="386.65" stroke="#efefef" stroke-width="0.8"/>
<line x1="474.3" y1="400.60" x2="680.7" y2="400.60" stroke="#efefef" stroke-width="0.8"/>
<line x1="474.3" y1="414.55" x2="680.7" y2="414.55" stroke="#efefef" stroke-width="0.8"/>
<line x1="474.3" y1="428.50" x2="680.7" y2="428.50" stroke="#efefef" stroke-width="0.8"/>
<line x1="474.3" y1="442.45" x2="680.7" y2="442.45" stroke="#efefef" stroke-width="0.8"/>
<line x1="474.3" y1="456.40" x2="680.7" y2="456.40" stroke="#efefef" stroke-width="0.8"/>
<line x1="474.3" y1="470.35" x2="680.7" y2="470.35" stroke="#efefef" stroke-width="0.8"/>
<line x1="474.3" y1="484.30" x2="680.7" y2="484.30" stroke="#efefef" stroke-width="0.8"/>
<line x1="474.3" y1="498.25" x2="680.7" y2="498.25" stroke="#efefef" stroke-width="0.8"/>
<line x1="474.3" y1="512.20" x2="680.7" y2="512.20" stroke="#efefef" stroke-width="0.8"/>
<line x1="474.3" y1="526.15" x2="680.7" y2="526.15" stroke="#efefef" stroke-width="0.8"/>
<line x1="474.3" y1="540.10" x2="680.7" y2="540.10" stroke="#efefef" stroke-width="0.8"/>
<line x1="474.3" y1="554.05" x2="680.7" y2="554.05" stroke="#efefef" stroke-width="0.8"/>
<rect x="474.3" y="231.8" width="206.40" height="337.60" fill="none" stroke="#a0a0a0" stroke-width="1.05"/>
<line x1="503.79" y1="569.4" x2="503.79" y2="571.4" stroke="#777" stroke-width="0.8"/>
<line x1="552.93" y1="569.4" x2="552.93" y2="571.4" stroke="#777" stroke-width="0.8"/>
<line x1="602.07" y1="569.4" x2="602.07" y2="571.4" stroke="#777" stroke-width="0.8"/>
<line x1="651.21" y1="569.4" x2="651.21" y2="571.4" stroke="#777" stroke-width="0.8"/>
<line x1="472.3" y1="240.17" x2="474.3" y2="240.17" stroke="#777" stroke-width="0.8"/>
<line x1="472.3" y1="254.12" x2="474.3" y2="254.12" stroke="#777" stroke-width="0.8"/>
<line x1="472.3" y1="268.07" x2="474.3" y2="268.07" stroke="#777" stroke-width="0.8"/>
<line x1="472.3" y1="282.02" x2="474.3" y2="282.02" stroke="#777" stroke-width="0.8"/>
<line x1="472.3" y1="295.97" x2="474.3" y2="295.97" stroke="#777" stroke-width="0.8"/>
<line x1="472.3" y1="309.92" x2="474.3" y2="309.92" stroke="#777" stroke-width="0.8"/>
<line x1="472.3" y1="323.87" x2="474.3" y2="323.87" stroke="#777" stroke-width="0.8"/>
<line x1="472.3" y1="337.82" x2="474.3" y2="337.82" stroke="#777" stroke-width="0.8"/>
<line x1="472.3" y1="351.77" x2="474.3" y2="351.77" stroke="#777" stroke-width="0.8"/>
<line x1="472.3" y1="365.72" x2="474.3" y2="365.72" stroke="#777" stroke-width="0.8"/>
<line x1="472.3" y1="379.67" x2="474.3" y2="379.67" stroke="#777" stroke-width="0.8"/>
<line x1="472.3" y1="393.62" x2="474.3" y2="393.62" stroke="#777" stroke-width="0.8"/>
<line x1="472.3" y1="407.58" x2="474.3" y2="407.58" stroke="#777" stroke-width="0.8"/>
<line x1="472.3" y1="421.53" x2="474.3" y2="421.53" stroke="#777" stroke-width="0.8"/>
<line x1="472.3" y1="435.48" x2="474.3" y2="435.48" stroke="#777" stroke-width="0.8"/>
<line x1="472.3" y1="449.43" x2="474.3" y2="449.43" stroke="#777" stroke-width="0.8"/>
<line x1="472.3" y1="463.38" x2="474.3" y2="463.38" stroke="#777" stroke-width="0.8"/>
<line x1="472.3" y1="477.33" x2="474.3" y2="477.33" stroke="#777" stroke-width="0.8"/>
<line x1="472.3" y1="491.28" x2="474.3" y2="491.28" stroke="#777" stroke-width="0.8"/>
<line x1="472.3" y1="505.23" x2="474.3" y2="505.23" stroke="#777" stroke-width="0.8"/>
<line x1="472.3" y1="519.18" x2="474.3" y2="519.18" stroke="#777" stroke-width="0.8"/>
<line x1="472.3" y1="533.13" x2="474.3" y2="533.13" stroke="#777" stroke-width="0.8"/>
<line x1="472.3" y1="547.08" x2="474.3" y2="547.08" stroke="#777" stroke-width="0.8"/>
<line x1="472.3" y1="561.03" x2="474.3" y2="561.03" stroke="#777" stroke-width="0.8"/>
<circle cx="503.79" cy="240.17" r="2.8" fill="#fed683"/>
<circle cx="552.93" cy="240.17" r="2.8" fill="#e8f397"/>
<circle cx="602.07" cy="240.17" r="2.8" fill="#abdda4"/>
<circle cx="651.21" cy="240.17" r="2.8" fill="#555aa7"/>
<circle cx="503.79" cy="254.12" r="2.8" fill="#fdb869"/>
<circle cx="552.93" cy="254.12" r="2.8" fill="#fee08b"/>
<circle cx="602.07" cy="254.12" r="2.8" fill="#c8e99e"/>
<circle cx="651.21" cy="254.12" r="2.8" fill="#486cb0"/>
<circle cx="503.79" cy="268.07" r="2.8" fill="#fdae61"/>
<circle cx="552.93" cy="268.07" r="2.8" fill="#fee08b"/>
<circle cx="602.07" cy="268.07" r="2.8" fill="#e6f598"/>
<circle cx="651.21" cy="268.07" r="2.8" fill="#3b7db8"/>
<circle cx="503.79" cy="282.02" r="2.8" fill="#fdae61"/>
<circle cx="552.93" cy="282.02" r="2.8" fill="#fee08b"/>
<circle cx="602.07" cy="282.02" r="2.8" fill="#e6f598"/>
<circle cx="651.21" cy="282.02" r="2.8" fill="#3f77b5"/>
<circle cx="503.79" cy="295.97" r="2.8" fill="#9e0142"/>
<circle cx="552.93" cy="295.97" r="2.8" fill="#d53e4f"/>
<circle cx="602.07" cy="295.97" r="2.8" fill="#f46d43"/>
<circle cx="651.21" cy="295.97" r="2.8" fill="#abdda4"/>
<circle cx="503.79" cy="309.92" r="2.8" fill="#9e0142"/>
<circle cx="552.93" cy="309.92" r="2.8" fill="#d53e4f"/>
<circle cx="602.07" cy="309.92" r="2.8" fill="#f46d43"/>
<circle cx="651.21" cy="309.92" r="2.8" fill="#abdda4"/>
<circle cx="503.79" cy="323.87" r="2.8" fill="#fed683"/>
<circle cx="552.93" cy="323.87" r="2.8" fill="#ecf095"/>
<circle cx="602.07" cy="323.87" r="2.8" fill="#b7e2a2"/>
<circle cx="651.21" cy="323.87" r="2.8" fill="#555aa7"/>
<circle cx="503.79" cy="337.82" r="2.8" fill="#fdb869"/>
<circle cx="552.93" cy="337.82" r="2.8" fill="#fee08b"/>
<circle cx="602.07" cy="337.82" r="2.8" fill="#e6f598"/>
<circle cx="651.21" cy="337.82" r="2.8" fill="#3f77b5"/>
<circle cx="503.79" cy="351.77" r="2.8" fill="#fba15b"/>
<circle cx="552.93" cy="351.77" r="2.8" fill="#fed17e"/>
<circle cx="602.07" cy="351.77" r="2.8" fill="#e8f397"/>
<circle cx="651.21" cy="351.77" r="2.8" fill="#3682ba"/>
<circle cx="503.79" cy="365.72" r="2.8" fill="#fa9a58"/>
<circle cx="552.93" cy="365.72" r="2.8" fill="#fed17e"/>
<circle cx="602.07" cy="365.72" r="2.8" fill="#eaf296"/>
<circle cx="651.21" cy="365.72" r="2.8" fill="#3682ba"/>
<circle cx="503.79" cy="379.67" r="2.8" fill="#f8874f"/>
<circle cx="552.93" cy="379.67" r="2.8" fill="#fdc272"/>
<circle cx="602.07" cy="379.67" r="2.8" fill="#ecf095"/>
<circle cx="651.21" cy="379.67" r="2.8" fill="#3682ba"/>
<circle cx="503.79" cy="393.62" r="2.8" fill="#ee6445"/>
<circle cx="552.93" cy="393.62" r="2.8" fill="#fba15b"/>
<circle cx="602.07" cy="393.62" r="2.8" fill="#fce28c"/>
<circle cx="651.21" cy="393.62" r="2.8" fill="#4299b6"/>
<circle cx="503.79" cy="407.58" r="2.8" fill="#eb5f47"/>
<circle cx="552.93" cy="407.58" r="2.8" fill="#fa9a58"/>
<circle cx="602.07" cy="407.58" r="2.8" fill="#fee08b"/>
<circle cx="651.21" cy="407.58" r="2.8" fill="#479fb3"/>
<circle cx="503.79" cy="421.53" r="2.8" fill="#eb5f47"/>
<circle cx="552.93" cy="421.53" r="2.8" fill="#fa9a58"/>
<circle cx="602.07" cy="421.53" r="2.8" fill="#fee08b"/>
<circle cx="651.21" cy="421.53" r="2.8" fill="#479fb3"/>
<circle cx="503.79" cy="435.48" r="2.8" fill="#e85a48"/>
<circle cx="552.93" cy="435.48" r="2.8" fill="#f99455"/>
<circle cx="602.07" cy="435.48" r="2.8" fill="#fed683"/>
<circle cx="651.21" cy="435.48" r="2.8" fill="#51abaf"/>
<circle cx="503.79" cy="449.43" r="2.8" fill="#d53e4f"/>
<circle cx="552.93" cy="449.43" r="2.8" fill="#f46d43"/>
<circle cx="602.07" cy="449.43" r="2.8" fill="#fdb869"/>
<circle cx="651.21" cy="449.43" r="2.8" fill="#74c7a5"/>
<circle cx="503.79" cy="463.38" r="2.8" fill="#ca324c"/>
<circle cx="552.93" cy="463.38" r="2.8" fill="#eb5f47"/>
<circle cx="602.07" cy="463.38" r="2.8" fill="#fdae61"/>
<circle cx="651.21" cy="463.38" r="2.8" fill="#82cda5"/>
<circle cx="503.79" cy="477.33" r="2.8" fill="#ca324c"/>
<circle cx="552.93" cy="477.33" r="2.8" fill="#eb5f47"/>
<circle cx="602.07" cy="477.33" r="2.8" fill="#fdae61"/>
<circle cx="651.21" cy="477.33" r="2.8" fill="#82cda5"/>
<circle cx="503.79" cy="491.28" r="2.8" fill="#af1346"/>
<circle cx="552.93" cy="491.28" r="2.8" fill="#e85a48"/>
<circle cx="602.07" cy="491.28" r="2.8" fill="#fca85e"/>
<circle cx="651.21" cy="491.28" r="2.8" fill="#74c7a5"/>
<circle cx="503.79" cy="505.23" r="2.8" fill="#af1346"/>
<circle cx="552.93" cy="505.23" r="2.8" fill="#e85a48"/>
<circle cx="602.07" cy="505.23" r="2.8" fill="#fca85e"/>
<circle cx="651.21" cy="505.23" r="2.8" fill="#74c7a5"/>
<circle cx="503.79" cy="519.18" r="2.8" fill="#f46d43"/>
<circle cx="552.93" cy="519.18" r="2.8" fill="#f99455"/>
<circle cx="602.07" cy="519.18" r="2.8" fill="#fedb87"/>
<circle cx="651.21" cy="519.18" r="2.8" fill="#4299b6"/>
<circle cx="503.79" cy="533.13" r="2.8" fill="#db474d"/>
<circle cx="552.93" cy="533.13" r="2.8" fill="#f46d43"/>
<circle cx="602.07" cy="533.13" r="2.8" fill="#fdb869"/>
<circle cx="651.21" cy="533.13" r="2.8" fill="#66c2a5"/>
<circle cx="503.79" cy="547.08" r="2.8" fill="#ca324c"/>
<circle cx="552.93" cy="547.08" r="2.8" fill="#ee6445"/>
<circle cx="602.07" cy="547.08" r="2.8" fill="#fdb365"/>
<circle cx="651.21" cy="547.08" r="2.8" fill="#7bcaa5"/>
<circle cx="503.79" cy="561.03" r="2.8" fill="#ca324c"/>
<circle cx="552.93" cy="561.03" r="2.8" fill="#ee6445"/>
<circle cx="602.07" cy="561.03" r="2.8" fill="#fdb365"/>
<circle cx="651.21" cy="561.03" r="2.8" fill="#82cda5"/>
</g>
<text transform="translate(470.90,243.67) scale(1,1.1)" font-size="9.1" fill="#111" font-weight="bold" text-anchor="end" stroke="#111" stroke-width="0.38">FGF9 − FGFR4</text>
<text transform="translate(470.90,257.62) scale(1,1.1)" font-size="9.1" fill="#111" font-weight="bold" text-anchor="end" stroke="#111" stroke-width="0.38">FGF9 − FGFR3</text>
<text transform="translate(470.90,271.57) scale(1,1.1)" font-size="9.1" fill="#111" font-weight="bold" text-anchor="end" stroke="#111" stroke-width="0.38">FGF9 − FGFR2</text>
<text transform="translate(470.90,285.52) scale(1,1.1)" font-size="9.1" fill="#111" font-weight="bold" text-anchor="end" stroke="#111" stroke-width="0.38">FGF9 − FGFR1</text>
<text transform="translate(470.90,299.47) scale(1,1.1)" font-size="9.1" fill="#111" font-weight="bold" text-anchor="end" stroke="#111" stroke-width="0.38">FGF7 − FGFR2</text>
<text transform="translate(470.90,313.42) scale(1,1.1)" font-size="9.1" fill="#111" font-weight="bold" text-anchor="end" stroke="#111" stroke-width="0.38">FGF7 − FGFR1</text>
<text transform="translate(470.90,327.37) scale(1,1.1)" font-size="9.1" fill="#111" font-weight="bold" text-anchor="end" stroke="#111" stroke-width="0.38">FGF5 − FGFR4</text>
<text transform="translate(470.90,341.32) scale(1,1.1)" font-size="9.1" fill="#111" font-weight="bold" text-anchor="end" stroke="#111" stroke-width="0.38">FGF5 − FGFR3</text>
<text transform="translate(470.90,355.27) scale(1,1.1)" font-size="9.1" fill="#111" font-weight="bold" text-anchor="end" stroke="#111" stroke-width="0.38">FGF5 − FGFR2</text>
<text transform="translate(470.90,369.22) scale(1,1.1)" font-size="9.1" fill="#111" font-weight="bold" text-anchor="end" stroke="#111" stroke-width="0.38">FGF5 − FGFR1</text>
<text transform="translate(470.90,383.17) scale(1,1.1)" font-size="9.1" fill="#111" font-weight="bold" text-anchor="end" stroke="#111" stroke-width="0.38">FGF4 − FGFR4</text>
<text transform="translate(470.90,397.12) scale(1,1.1)" font-size="9.1" fill="#111" font-weight="bold" text-anchor="end" stroke="#111" stroke-width="0.38">FGF4 − FGFR3</text>
<text transform="translate(470.90,411.08) scale(1,1.1)" font-size="9.1" fill="#111" font-weight="bold" text-anchor="end" stroke="#111" stroke-width="0.38">FGF4 − FGFR2</text>
<text transform="translate(470.90,425.03) scale(1,1.1)" font-size="9.1" fill="#111" font-weight="bold" text-anchor="end" stroke="#111" stroke-width="0.38">FGF4 − FGFR1</text>
<text transform="translate(470.90,438.98) scale(1,1.1)" font-size="9.1" fill="#111" font-weight="bold" text-anchor="end" stroke="#111" stroke-width="0.38">FGF2 − FGFR4</text>
<text transform="translate(470.90,452.93) scale(1,1.1)" font-size="9.1" fill="#111" font-weight="bold" text-anchor="end" stroke="#111" stroke-width="0.38">FGF2 − FGFR3</text>
<text transform="translate(470.90,466.88) scale(1,1.1)" font-size="9.1" fill="#111" font-weight="bold" text-anchor="end" stroke="#111" stroke-width="0.38">FGF2 − FGFR2</text>
<text transform="translate(470.90,480.83) scale(1,1.1)" font-size="9.1" fill="#111" font-weight="bold" text-anchor="end" stroke="#111" stroke-width="0.38">FGF2 − FGFR1</text>
<text transform="translate(470.90,494.78) scale(1,1.1)" font-size="9.1" fill="#111" font-weight="bold" text-anchor="end" stroke="#111" stroke-width="0.38">FGF10 − FGFR2</text>
<text transform="translate(470.90,508.73) scale(1,1.1)" font-size="9.1" fill="#111" font-weight="bold" text-anchor="end" stroke="#111" stroke-width="0.38">FGF10 − FGFR1</text>
<text transform="translate(470.90,522.68) scale(1,1.1)" font-size="9.1" fill="#111" font-weight="bold" text-anchor="end" stroke="#111" stroke-width="0.38">FGF1 − FGFR4</text>
<text transform="translate(470.90,536.63) scale(1,1.1)" font-size="9.1" fill="#111" font-weight="bold" text-anchor="end" stroke="#111" stroke-width="0.38">FGF1 − FGFR3</text>
<text transform="translate(470.90,550.58) scale(1,1.1)" font-size="9.1" fill="#111" font-weight="bold" text-anchor="end" stroke="#111" stroke-width="0.38">FGF1 − FGFR2</text>
<text transform="translate(470.90,564.53) scale(1,1.1)" font-size="9.1" fill="#111" font-weight="bold" text-anchor="end" stroke="#111" stroke-width="0.38">FGF1 − FGFR1</text>
<text transform="translate(518.71,579.61) rotate(-14) scale(1,1.1)" font-size="9.0" fill="#111" font-weight="bold" text-anchor="end" stroke="#111" stroke-width="0.38">Macrophages −&gt; Myofibroblasts</text>
<text transform="translate(556.25,579.61) rotate(-14) scale(1,1.1)" font-size="9.0" fill="#111" font-weight="bold" text-anchor="end" stroke="#111" stroke-width="0.38">NK/T cells −&gt; Myofibroblasts</text>
<text transform="translate(604.20,579.61) rotate(-14) scale(1,1.1)" font-size="9.0" fill="#111" font-weight="bold" text-anchor="end" stroke="#111" stroke-width="0.38">Plasma B cells −&gt; Myofibroblasts</text>
<text transform="translate(652.94,579.61) rotate(-14) scale(1,1.1)" font-size="9.0" fill="#111" font-weight="bold" text-anchor="end" stroke="#111" stroke-width="0.38">B cells −&gt; Myofibroblasts</text>
<text transform="translate(574.60,226.90) scale(1,1.1)" font-size="11.35" fill="#111" font-weight="bold" text-anchor="middle" stroke="#111" stroke-width="0.38">FGF signaling pathway</text>
<text transform="translate(686.40,341.70) scale(1,1.1)" font-size="9" fill="#111" font-weight="bold" stroke="#111" stroke-width="0.38">Commun. Prob.</text>
<rect x="696.60" y="346.80" width="5.2" height="65.6" rx="1.5" fill="url(#sg)"/>
<text transform="translate(704.90,348.60) scale(1,1.1)" font-size="7.3" fill="#222" stroke="#222" stroke-width="0.1">max</text>
<text transform="translate(704.90,413.40) scale(1,1.1)" font-size="7.3" fill="#222" stroke="#222" stroke-width="0.1">min</text>
<text transform="translate(688.00,435.60) scale(1,1.1)" font-size="9" fill="#111" font-weight="bold" stroke="#111" stroke-width="0.38">p−value</text>
<circle cx="692.90" cy="444.80" r="1.1" fill="#000"/>
<text transform="translate(697.80,447.20) scale(1,1.1)" font-size="7.5" fill="#222" stroke="#222" stroke-width="0.1">p &gt; 0.05</text>
<circle cx="692.90" cy="457.95" r="2.0" fill="#000"/>
<text transform="translate(697.80,460.35) scale(1,1.1)" font-size="7.5" fill="#222" stroke="#222" stroke-width="0.1">0.01 &lt; p &lt; 0.05</text>
<circle cx="692.90" cy="471.10" r="2.75" fill="#000"/>
<text transform="translate(697.80,473.50) scale(1,1.1)" font-size="7.5" fill="#222" stroke="#222" stroke-width="0.1">p &lt; 0.01</text>
<g>
<line x1="155.47" y1="529.0" x2="155.47" y2="646.2" stroke="#efefef" stroke-width="0.8"/>
<line x1="203.90" y1="529.0" x2="203.90" y2="646.2" stroke="#efefef" stroke-width="0.8"/>
<line x1="252.33" y1="529.0" x2="252.33" y2="646.2" stroke="#efefef" stroke-width="0.8"/>
<line x1="102.2" y1="587.60" x2="305.6" y2="587.60" stroke="#efefef" stroke-width="0.8"/>
<rect x="102.2" y="529.0" width="203.40" height="117.20" fill="none" stroke="#a0a0a0" stroke-width="1.05"/>
<line x1="131.26" y1="646.2" x2="131.26" y2="648.2" stroke="#777" stroke-width="0.8"/>
<line x1="179.69" y1="646.2" x2="179.69" y2="648.2" stroke="#777" stroke-width="0.8"/>
<line x1="228.11" y1="646.2" x2="228.11" y2="648.2" stroke="#777" stroke-width="0.8"/>
<line x1="276.54" y1="646.2" x2="276.54" y2="648.2" stroke="#777" stroke-width="0.8"/>
<line x1="100.2" y1="560.96" x2="102.2" y2="560.96" stroke="#777" stroke-width="0.8"/>
<line x1="100.2" y1="614.24" x2="102.2" y2="614.24" stroke="#777" stroke-width="0.8"/>
<circle cx="131.26" cy="560.96" r="2.8" fill="#9e0142"/>
<circle cx="179.69" cy="560.96" r="2.8" fill="#a90d45"/>
<circle cx="228.11" cy="560.96" r="2.8" fill="#fba15b"/>
<circle cx="276.54" cy="560.96" r="2.8" fill="#e8f397"/>
<circle cx="131.26" cy="614.24" r="2.8" fill="#ceeb9d"/>
<circle cx="179.69" cy="614.24" r="2.8" fill="#d4ee9c"/>
<circle cx="228.11" cy="614.24" r="2.8" fill="#4ca5b1"/>
<circle cx="276.54" cy="614.24" r="2.8" fill="#555aa7"/>
</g>
<text transform="translate(99.20,563.76) scale(1,1.1)" font-size="9.1" fill="#111" font-weight="bold" text-anchor="end" stroke="#111" stroke-width="0.38">JAG1 − NOTCH3</text>
<text transform="translate(99.20,617.04) scale(1,1.1)" font-size="9.1" fill="#111" font-weight="bold" text-anchor="end" stroke="#111" stroke-width="0.38">JAG1 − NOTCH1</text>
<text transform="translate(133.08,656.41) rotate(-14) scale(1,1.1)" font-size="9.0" fill="#111" font-weight="bold" text-anchor="end" stroke="#111" stroke-width="0.38">Macrophages −&gt; Myofibroblasts</text>
<text transform="translate(184.01,656.41) rotate(-14) scale(1,1.1)" font-size="9.0" fill="#111" font-weight="bold" text-anchor="end" stroke="#111" stroke-width="0.38">NK/T cells −&gt; Myofibroblasts</text>
<text transform="translate(230.24,656.41) rotate(-14) scale(1,1.1)" font-size="9.0" fill="#111" font-weight="bold" text-anchor="end" stroke="#111" stroke-width="0.38">Plasma B cells −&gt; Myofibroblasts</text>
<text transform="translate(280.37,656.41) rotate(-14) scale(1,1.1)" font-size="9.0" fill="#111" font-weight="bold" text-anchor="end" stroke="#111" stroke-width="0.38">B cells −&gt; Myofibroblasts</text>
<text transform="translate(210.50,523.10) scale(1,1.1)" font-size="11.35" fill="#111" font-weight="bold" text-anchor="middle" stroke="#111" stroke-width="0.38">NOTCH signaling pathway</text>
<text transform="translate(311.00,548.40) scale(1,1.1)" font-size="9" fill="#111" font-weight="bold" stroke="#111" stroke-width="0.38">Commun. Prob.</text>
<rect x="321.20" y="553.50" width="5.2" height="65.6" rx="1.5" fill="url(#sg)"/>
<text transform="translate(329.50,555.30) scale(1,1.1)" font-size="7.3" fill="#222" stroke="#222" stroke-width="0.1">max</text>
<text transform="translate(329.50,620.10) scale(1,1.1)" font-size="7.3" fill="#222" stroke="#222" stroke-width="0.1">min</text>
<text transform="translate(312.60,642.30) scale(1,1.1)" font-size="9" fill="#111" font-weight="bold" stroke="#111" stroke-width="0.38">p−value</text>
<circle cx="317.50" cy="651.50" r="1.1" fill="#000"/>
<text transform="translate(322.40,653.90) scale(1,1.1)" font-size="7.5" fill="#222" stroke="#222" stroke-width="0.1">p &gt; 0.05</text>
<circle cx="317.50" cy="664.65" r="2.0" fill="#000"/>
<text transform="translate(322.40,667.05) scale(1,1.1)" font-size="7.5" fill="#222" stroke="#222" stroke-width="0.1">0.01 &lt; p &lt; 0.05</text>
<circle cx="317.50" cy="677.80" r="2.75" fill="#000"/>
<text transform="translate(322.40,680.20) scale(1,1.1)" font-size="7.5" fill="#222" stroke="#222" stroke-width="0.1">p &lt; 0.01</text>
<g>
<line x1="185.69" y1="724.7" x2="185.69" y2="897.0" stroke="#efefef" stroke-width="0.8"/>
<line x1="224.05" y1="724.7" x2="224.05" y2="897.0" stroke="#efefef" stroke-width="0.8"/>
<line x1="262.41" y1="724.7" x2="262.41" y2="897.0" stroke="#efefef" stroke-width="0.8"/>
<line x1="143.5" y1="755.27" x2="304.6" y2="755.27" stroke="#efefef" stroke-width="0.8"/>
<line x1="143.5" y1="783.06" x2="304.6" y2="783.06" stroke="#efefef" stroke-width="0.8"/>
<line x1="143.5" y1="810.85" x2="304.6" y2="810.85" stroke="#efefef" stroke-width="0.8"/>
<line x1="143.5" y1="838.64" x2="304.6" y2="838.64" stroke="#efefef" stroke-width="0.8"/>
<line x1="143.5" y1="866.43" x2="304.6" y2="866.43" stroke="#efefef" stroke-width="0.8"/>
<rect x="143.5" y="724.7" width="161.10" height="172.30" fill="none" stroke="#a0a0a0" stroke-width="1.05"/>
<line x1="166.51" y1="897.0" x2="166.51" y2="899.0" stroke="#777" stroke-width="0.8"/>
<line x1="204.87" y1="897.0" x2="204.87" y2="899.0" stroke="#777" stroke-width="0.8"/>
<line x1="243.23" y1="897.0" x2="243.23" y2="899.0" stroke="#777" stroke-width="0.8"/>
<line x1="281.59" y1="897.0" x2="281.59" y2="899.0" stroke="#777" stroke-width="0.8"/>
<line x1="141.5" y1="741.37" x2="143.5" y2="741.37" stroke="#777" stroke-width="0.8"/>
<line x1="141.5" y1="769.16" x2="143.5" y2="769.16" stroke="#777" stroke-width="0.8"/>
<line x1="141.5" y1="796.95" x2="143.5" y2="796.95" stroke="#777" stroke-width="0.8"/>
<line x1="141.5" y1="824.75" x2="143.5" y2="824.75" stroke="#777" stroke-width="0.8"/>
<line x1="141.5" y1="852.54" x2="143.5" y2="852.54" stroke="#777" stroke-width="0.8"/>
<line x1="141.5" y1="880.33" x2="143.5" y2="880.33" stroke="#777" stroke-width="0.8"/>
<circle cx="166.51" cy="741.37" r="2.8" fill="#f8874f"/>
<circle cx="204.87" cy="741.37" r="2.8" fill="#fedb87"/>
<circle cx="243.23" cy="741.37" r="2.8" fill="#c8e99e"/>
<circle cx="281.59" cy="741.37" r="2.8" fill="#3682ba"/>
<circle cx="166.51" cy="769.16" r="2.8" fill="#f88e52"/>
<circle cx="204.87" cy="769.16" r="2.8" fill="#fedb87"/>
<circle cx="243.23" cy="769.16" r="2.8" fill="#b7e2a2"/>
<circle cx="281.59" cy="769.16" r="2.8" fill="#4471b2"/>
<circle cx="166.51" cy="796.95" r="2.8" fill="#fdae61"/>
<circle cx="204.87" cy="796.95" r="2.8" fill="#eaf296"/>
<circle cx="243.23" cy="796.95" r="2.8" fill="#96d5a4"/>
<circle cx="281.59" cy="796.95" r="2.8" fill="#5a55a5"/>
<circle cx="166.51" cy="824.75" r="2.8" fill="#9e0142"/>
<circle cx="204.87" cy="824.75" r="2.8" fill="#f99455"/>
<circle cx="243.23" cy="824.75" r="2.8" fill="#fee08b"/>
<circle cx="281.59" cy="824.75" r="2.8" fill="#66c2a5"/>
<circle cx="166.51" cy="852.54" r="2.8" fill="#b41947"/>
<circle cx="204.87" cy="852.54" r="2.8" fill="#fba15b"/>
<circle cx="243.23" cy="852.54" r="2.8" fill="#fae38d"/>
<circle cx="281.59" cy="852.54" r="2.8" fill="#56b1ac"/>
<circle cx="166.51" cy="880.33" r="2.8" fill="#d53e4f"/>
<circle cx="204.87" cy="880.33" r="2.8" fill="#fed683"/>
<circle cx="243.23" cy="880.33" r="2.8" fill="#e6f598"/>
<circle cx="281.59" cy="880.33" r="2.8" fill="#3288bd"/>
</g>
<text transform="translate(139.40,743.97) scale(1,1.1)" font-size="9.1" fill="#111" font-weight="bold" text-anchor="end" stroke="#111" stroke-width="0.38">BMP4 − (BMPR1B+BMPR2)</text>
<text transform="translate(139.40,771.76) scale(1,1.1)" font-size="9.1" fill="#111" font-weight="bold" text-anchor="end" stroke="#111" stroke-width="0.38">BMP4 − (BMPR1B+ACVR2B)</text>
<text transform="translate(139.40,799.55) scale(1,1.1)" font-size="9.1" fill="#111" font-weight="bold" text-anchor="end" stroke="#111" stroke-width="0.38">BMP4 − (BMPR1B+ACVR2A)</text>
<text transform="translate(139.40,827.35) scale(1,1.1)" font-size="9.1" fill="#111" font-weight="bold" text-anchor="end" stroke="#111" stroke-width="0.38">BMP2 − (BMPR1B+BMPR2)</text>
<text transform="translate(139.40,855.14) scale(1,1.1)" font-size="9.1" fill="#111" font-weight="bold" text-anchor="end" stroke="#111" stroke-width="0.38">BMP2 − (BMPR1B+ACVR2B)</text>
<text transform="translate(139.40,882.93) scale(1,1.1)" font-size="9.1" fill="#111" font-weight="bold" text-anchor="end" stroke="#111" stroke-width="0.38">BMP2 − (BMPR1B+ACVR2A)</text>
<text transform="translate(174.24,907.21) rotate(-14) scale(1,1.1)" font-size="9.0" fill="#111" font-weight="bold" text-anchor="end" stroke="#111" stroke-width="0.38">Macrophages −&gt; Myofibroblasts</text>
<text transform="translate(210.90,907.21) rotate(-14) scale(1,1.1)" font-size="9.0" fill="#111" font-weight="bold" text-anchor="end" stroke="#111" stroke-width="0.38">NK/T cells −&gt; Myofibroblasts</text>
<text transform="translate(249.65,907.21) rotate(-14) scale(1,1.1)" font-size="9.0" fill="#111" font-weight="bold" text-anchor="end" stroke="#111" stroke-width="0.38">Plasma B cells −&gt; Myofibroblasts</text>
<text transform="translate(285.51,907.21) rotate(-14) scale(1,1.1)" font-size="9.0" fill="#111" font-weight="bold" text-anchor="end" stroke="#111" stroke-width="0.38">B cells −&gt; Myofibroblasts</text>
<text transform="translate(225.20,720.10) scale(1,1.1)" font-size="11.35" fill="#111" font-weight="bold" text-anchor="middle" stroke="#111" stroke-width="0.38">BMP signaling pathway</text>
<text transform="translate(310.80,750.70) scale(1,1.1)" font-size="9" fill="#111" font-weight="bold" stroke="#111" stroke-width="0.38">Commun. Prob.</text>
<rect x="321.00" y="755.80" width="5.2" height="65.6" rx="1.5" fill="url(#sg)"/>
<text transform="translate(329.30,757.60) scale(1,1.1)" font-size="7.3" fill="#222" stroke="#222" stroke-width="0.1">max</text>
<text transform="translate(329.30,822.40) scale(1,1.1)" font-size="7.3" fill="#222" stroke="#222" stroke-width="0.1">min</text>
<text transform="translate(312.40,844.60) scale(1,1.1)" font-size="9" fill="#111" font-weight="bold" stroke="#111" stroke-width="0.38">p−value</text>
<circle cx="317.30" cy="853.80" r="1.1" fill="#000"/>
<text transform="translate(322.20,856.20) scale(1,1.1)" font-size="7.5" fill="#222" stroke="#222" stroke-width="0.1">p &gt; 0.05</text>
<circle cx="317.30" cy="866.95" r="2.0" fill="#000"/>
<text transform="translate(322.20,869.35) scale(1,1.1)" font-size="7.5" fill="#222" stroke="#222" stroke-width="0.1">0.01 &lt; p &lt; 0.05</text>
<circle cx="317.30" cy="880.10" r="2.75" fill="#000"/>
<text transform="translate(322.20,882.50) scale(1,1.1)" font-size="7.5" fill="#222" stroke="#222" stroke-width="0.1">p &lt; 0.01</text>
<g>
<line x1="534.45" y1="632.3" x2="534.45" y2="749.8" stroke="#efefef" stroke-width="0.8"/>
<line x1="576.40" y1="632.3" x2="576.40" y2="749.8" stroke="#efefef" stroke-width="0.8"/>
<line x1="618.35" y1="632.3" x2="618.35" y2="749.8" stroke="#efefef" stroke-width="0.8"/>
<line x1="488.3" y1="663.07" x2="664.5" y2="663.07" stroke="#efefef" stroke-width="0.8"/>
<line x1="488.3" y1="691.05" x2="664.5" y2="691.05" stroke="#efefef" stroke-width="0.8"/>
<line x1="488.3" y1="719.03" x2="664.5" y2="719.03" stroke="#efefef" stroke-width="0.8"/>
<rect x="488.3" y="632.3" width="176.20" height="117.50" fill="none" stroke="#a0a0a0" stroke-width="1.05"/>
<line x1="513.47" y1="749.8" x2="513.47" y2="751.8" stroke="#777" stroke-width="0.8"/>
<line x1="555.42" y1="749.8" x2="555.42" y2="751.8" stroke="#777" stroke-width="0.8"/>
<line x1="597.38" y1="749.8" x2="597.38" y2="751.8" stroke="#777" stroke-width="0.8"/>
<line x1="639.33" y1="749.8" x2="639.33" y2="751.8" stroke="#777" stroke-width="0.8"/>
<line x1="486.3" y1="649.09" x2="488.3" y2="649.09" stroke="#777" stroke-width="0.8"/>
<line x1="486.3" y1="677.06" x2="488.3" y2="677.06" stroke="#777" stroke-width="0.8"/>
<line x1="486.3" y1="705.04" x2="488.3" y2="705.04" stroke="#777" stroke-width="0.8"/>
<line x1="486.3" y1="733.01" x2="488.3" y2="733.01" stroke="#777" stroke-width="0.8"/>
<circle cx="513.47" cy="649.09" r="2.8" fill="#ebf195"/>
<circle cx="555.42" cy="649.09" r="2.8" fill="#3288bd"/>
<circle cx="513.47" cy="677.06" r="2.8" fill="#ceeb9d"/>
<circle cx="555.42" cy="677.06" r="2.8" fill="#486cb0"/>
<circle cx="513.47" cy="705.04" r="2.8" fill="#9e0142"/>
<circle cx="639.33" cy="705.04" r="2.8" fill="#4471b2"/>
<circle cx="513.47" cy="733.01" r="2.8" fill="#d53e4f"/>
<circle cx="639.33" cy="733.01" r="2.8" fill="#5a55a5"/>
</g>
<text transform="translate(485.30,652.09) scale(1,1.1)" font-size="9.1" fill="#111" font-weight="bold" text-anchor="end" stroke="#111" stroke-width="0.38">TGFA − EGFR</text>
<text transform="translate(485.30,680.06) scale(1,1.1)" font-size="9.1" fill="#111" font-weight="bold" text-anchor="end" stroke="#111" stroke-width="0.38">TGFA − (EGFR+ERBB2)</text>
<text transform="translate(485.30,708.04) scale(1,1.1)" font-size="9.1" fill="#111" font-weight="bold" text-anchor="end" stroke="#111" stroke-width="0.38">AREG − EGFR</text>
<text transform="translate(485.30,736.01) scale(1,1.1)" font-size="9.1" fill="#111" font-weight="bold" text-anchor="end" stroke="#111" stroke-width="0.38">AREG − (EGFR+ERBB2)</text>
<text transform="translate(514.40,760.01) rotate(-14) scale(1,1.1)" font-size="9.0" fill="#111" font-weight="bold" text-anchor="end" stroke="#111" stroke-width="0.38">Macrophages −&gt; Myofibroblasts</text>
<text transform="translate(558.55,760.01) rotate(-14) scale(1,1.1)" font-size="9.0" fill="#111" font-weight="bold" text-anchor="end" stroke="#111" stroke-width="0.38">NK/T cells −&gt; Myofibroblasts</text>
<text transform="translate(600.90,760.01) rotate(-14) scale(1,1.1)" font-size="9.0" fill="#111" font-weight="bold" text-anchor="end" stroke="#111" stroke-width="0.38">Plasma B cells −&gt; Myofibroblasts</text>
<text transform="translate(643.25,760.01) rotate(-14) scale(1,1.1)" font-size="9.0" fill="#111" font-weight="bold" text-anchor="end" stroke="#111" stroke-width="0.38">B cells −&gt; Myofibroblasts</text>
<text transform="translate(576.70,628.00) scale(1,1.1)" font-size="11.35" fill="#111" font-weight="bold" text-anchor="middle" stroke="#111" stroke-width="0.38">EGF signaling pathway</text>
<text transform="translate(670.60,643.20) scale(1,1.1)" font-size="9" fill="#111" font-weight="bold" stroke="#111" stroke-width="0.38">Commun. Prob.</text>
<rect x="680.80" y="648.30" width="5.2" height="65.6" rx="1.5" fill="url(#sg)"/>
<text transform="translate(689.10,650.10) scale(1,1.1)" font-size="7.3" fill="#222" stroke="#222" stroke-width="0.1">max</text>
<text transform="translate(689.10,714.90) scale(1,1.1)" font-size="7.3" fill="#222" stroke="#222" stroke-width="0.1">min</text>
<text transform="translate(672.20,737.10) scale(1,1.1)" font-size="9" fill="#111" font-weight="bold" stroke="#111" stroke-width="0.38">p−value</text>
<circle cx="677.10" cy="746.30" r="1.1" fill="#000"/>
<text transform="translate(682.00,748.70) scale(1,1.1)" font-size="7.5" fill="#222" stroke="#222" stroke-width="0.1">p &gt; 0.05</text>
<circle cx="677.10" cy="759.45" r="2.0" fill="#000"/>
<text transform="translate(682.00,761.85) scale(1,1.1)" font-size="7.5" fill="#222" stroke="#222" stroke-width="0.1">0.01 &lt; p &lt; 0.05</text>
<circle cx="677.10" cy="772.60" r="2.75" fill="#000"/>
<text transform="translate(682.00,775.00) scale(1,1.1)" font-size="7.5" fill="#222" stroke="#222" stroke-width="0.1">p &lt; 0.01</text>
<g>
<line x1="502.44" y1="820.0" x2="502.44" y2="896.3" stroke="#efefef" stroke-width="0.8"/>
<line x1="554.75" y1="820.0" x2="554.75" y2="896.3" stroke="#efefef" stroke-width="0.8"/>
<line x1="607.06" y1="820.0" x2="607.06" y2="896.3" stroke="#efefef" stroke-width="0.8"/>
<rect x="444.9" y="820.0" width="219.70" height="76.30" fill="none" stroke="#484848" stroke-width="1.35"/>
<line x1="476.29" y1="896.3" x2="476.29" y2="898.3" stroke="#777" stroke-width="0.8"/>
<line x1="528.60" y1="896.3" x2="528.60" y2="898.3" stroke="#777" stroke-width="0.8"/>
<line x1="580.90" y1="896.3" x2="580.90" y2="898.3" stroke="#777" stroke-width="0.8"/>
<line x1="633.21" y1="896.3" x2="633.21" y2="898.3" stroke="#777" stroke-width="0.8"/>
<line x1="442.9" y1="858.15" x2="444.9" y2="858.15" stroke="#777" stroke-width="0.8"/>
<circle cx="476.29" cy="858.15" r="2.8" fill="#9e0142"/>
<circle cx="528.60" cy="858.15" r="2.8" fill="#f46d43"/>
<circle cx="580.90" cy="858.15" r="2.8" fill="#fec776"/>
<circle cx="633.21" cy="858.15" r="2.8" fill="#5a55a5"/>
</g>
<text transform="translate(440.50,861.55) scale(1,1.1)" font-size="9.1" fill="#111" font-weight="bold" text-anchor="end" stroke="#111" stroke-width="0.38">HGF − MET</text>
<text transform="translate(490.51,906.51) rotate(-14) scale(1,1.1)" font-size="9.0" fill="#111" font-weight="bold" text-anchor="end" stroke="#111" stroke-width="0.38">Macrophages −&gt; Myofibroblasts</text>
<text transform="translate(540.62,906.51) rotate(-14) scale(1,1.1)" font-size="9.0" fill="#111" font-weight="bold" text-anchor="end" stroke="#111" stroke-width="0.38">NK/T cells −&gt; Myofibroblasts</text>
<text transform="translate(587.63,906.51) rotate(-14) scale(1,1.1)" font-size="9.0" fill="#111" font-weight="bold" text-anchor="end" stroke="#111" stroke-width="0.38">Plasma B cells −&gt; Myofibroblasts</text>
<text transform="translate(638.04,906.51) rotate(-14) scale(1,1.1)" font-size="9.0" fill="#111" font-weight="bold" text-anchor="end" stroke="#111" stroke-width="0.38">B cells −&gt; Myofibroblasts</text>
<text transform="translate(555.80,814.30) scale(1,1.1)" font-size="11.35" fill="#111" font-weight="bold" text-anchor="middle" stroke="#111" stroke-width="0.38">HGF signaling pathway</text>
<text transform="translate(670.50,810.50) scale(1,1.1)" font-size="9" fill="#111" font-weight="bold" stroke="#111" stroke-width="0.38">Commun. Prob.</text>
<rect x="680.70" y="815.60" width="5.2" height="65.6" rx="1.5" fill="url(#sg)"/>
<text transform="translate(689.00,817.40) scale(1,1.1)" font-size="7.3" fill="#222" stroke="#222" stroke-width="0.1">max</text>
<text transform="translate(689.00,882.20) scale(1,1.1)" font-size="7.3" fill="#222" stroke="#222" stroke-width="0.1">min</text>
<text transform="translate(672.10,904.40) scale(1,1.1)" font-size="9" fill="#111" font-weight="bold" stroke="#111" stroke-width="0.38">p−value</text>
<circle cx="677.00" cy="913.60" r="1.1" fill="#000"/>
<text transform="translate(681.90,916.00) scale(1,1.1)" font-size="7.5" fill="#222" stroke="#222" stroke-width="0.1">p &gt; 0.05</text>
<circle cx="677.00" cy="926.75" r="2.0" fill="#000"/>
<text transform="translate(681.90,929.15) scale(1,1.1)" font-size="7.5" fill="#222" stroke="#222" stroke-width="0.1">0.01 &lt; p &lt; 0.05</text>
<circle cx="677.00" cy="939.90" r="2.75" fill="#000"/>
<text transform="translate(681.90,942.30) scale(1,1.1)" font-size="7.5" fill="#222" stroke="#222" stroke-width="0.1">p &lt; 0.01</text>
</svg></body></html>
